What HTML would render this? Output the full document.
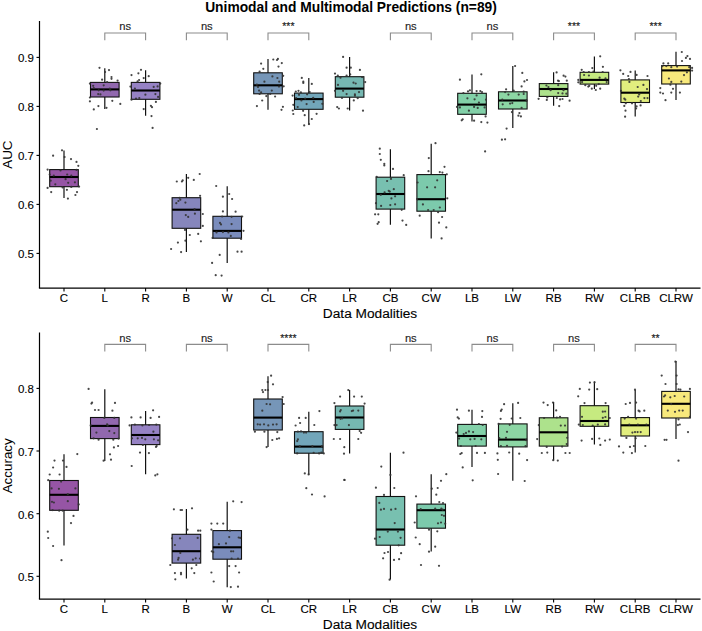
<!DOCTYPE html>
<html><head><meta charset="utf-8"><style>
html,body{margin:0;padding:0;background:#fff;width:702px;height:631px;overflow:hidden}
svg{display:block}
text{font-family:"Liberation Sans",sans-serif}
</style></head><body>
<svg width="702" height="631" viewBox="0 0 702 631">
<text x="351" y="11.6" text-anchor="middle" font-size="13.8" font-weight="bold" fill="#000">Unimodal and Multimodal Predictions (n=89)</text>
<line x1="64.0" y1="150.5" x2="64.0" y2="198.1" stroke="#111" stroke-width="1.2"/>
<rect x="49.7" y="169.6" width="28.6" height="17.1" fill="#9655A5" stroke="#111" stroke-width="1.1"/>
<line x1="49.7" y1="177.0" x2="78.3" y2="177.0" stroke="#000" stroke-width="2.1"/>
<line x1="104.8" y1="68.2" x2="104.8" y2="109.0" stroke="#111" stroke-width="1.2"/>
<rect x="90.5" y="82.4" width="28.6" height="14.6" fill="#9168AE" stroke="#111" stroke-width="1.1"/>
<line x1="90.5" y1="89.4" x2="119.1" y2="89.4" stroke="#000" stroke-width="2.1"/>
<line x1="145.6" y1="70.3" x2="145.6" y2="115.8" stroke="#111" stroke-width="1.2"/>
<rect x="131.3" y="82.4" width="28.6" height="16.9" fill="#9682C4" stroke="#111" stroke-width="1.1"/>
<line x1="131.3" y1="90.5" x2="159.9" y2="90.5" stroke="#000" stroke-width="2.1"/>
<line x1="186.4" y1="174.1" x2="186.4" y2="252.0" stroke="#111" stroke-width="1.2"/>
<rect x="172.1" y="197.7" width="28.6" height="30.6" fill="#8686BC" stroke="#111" stroke-width="1.1"/>
<line x1="172.1" y1="209.7" x2="200.7" y2="209.7" stroke="#000" stroke-width="2.1"/>
<line x1="227.2" y1="186.3" x2="227.2" y2="262.9" stroke="#111" stroke-width="1.2"/>
<rect x="212.9" y="216.3" width="28.6" height="21.9" fill="#7A8CBC" stroke="#111" stroke-width="1.1"/>
<line x1="212.9" y1="230.9" x2="241.5" y2="230.9" stroke="#000" stroke-width="2.1"/>
<line x1="268.0" y1="58.9" x2="268.0" y2="109.7" stroke="#111" stroke-width="1.2"/>
<rect x="253.7" y="72.8" width="28.6" height="21.0" fill="#7696B8" stroke="#111" stroke-width="1.1"/>
<line x1="253.7" y1="85.3" x2="282.3" y2="85.3" stroke="#000" stroke-width="2.1"/>
<line x1="308.8" y1="78.1" x2="308.8" y2="124.8" stroke="#111" stroke-width="1.2"/>
<rect x="294.5" y="93.1" width="28.6" height="16.2" fill="#72A6BA" stroke="#111" stroke-width="1.1"/>
<line x1="294.5" y1="99.1" x2="323.1" y2="99.1" stroke="#000" stroke-width="2.1"/>
<line x1="349.6" y1="57.1" x2="349.6" y2="110.5" stroke="#111" stroke-width="1.2"/>
<rect x="335.3" y="76.7" width="28.6" height="20.5" fill="#76B8B2" stroke="#111" stroke-width="1.1"/>
<line x1="335.3" y1="88.6" x2="363.9" y2="88.6" stroke="#000" stroke-width="2.1"/>
<line x1="390.4" y1="149.3" x2="390.4" y2="224.8" stroke="#111" stroke-width="1.2"/>
<rect x="376.1" y="177.2" width="28.6" height="31.9" fill="#78C0B0" stroke="#111" stroke-width="1.1"/>
<line x1="376.1" y1="194.0" x2="404.7" y2="194.0" stroke="#000" stroke-width="2.1"/>
<line x1="431.2" y1="143.7" x2="431.2" y2="238.4" stroke="#111" stroke-width="1.2"/>
<rect x="416.9" y="174.6" width="28.6" height="36.6" fill="#7CCAAC" stroke="#111" stroke-width="1.1"/>
<line x1="416.9" y1="199.2" x2="445.5" y2="199.2" stroke="#000" stroke-width="2.1"/>
<line x1="472.0" y1="74.4" x2="472.0" y2="121.6" stroke="#111" stroke-width="1.2"/>
<rect x="457.7" y="93.3" width="28.6" height="21.0" fill="#82D0A8" stroke="#111" stroke-width="1.1"/>
<line x1="457.7" y1="104.6" x2="486.3" y2="104.6" stroke="#000" stroke-width="2.1"/>
<line x1="512.8" y1="65.9" x2="512.8" y2="128.1" stroke="#111" stroke-width="1.2"/>
<rect x="498.5" y="91.8" width="28.6" height="17.2" fill="#8CD6A4" stroke="#111" stroke-width="1.1"/>
<line x1="498.5" y1="100.5" x2="527.1" y2="100.5" stroke="#000" stroke-width="2.1"/>
<line x1="553.6" y1="72.3" x2="553.6" y2="105.7" stroke="#111" stroke-width="1.2"/>
<rect x="539.3" y="83.6" width="28.6" height="12.8" fill="#ADE28C" stroke="#111" stroke-width="1.1"/>
<line x1="539.3" y1="89.0" x2="567.9" y2="89.0" stroke="#000" stroke-width="2.1"/>
<line x1="594.4" y1="56.5" x2="594.4" y2="89.0" stroke="#111" stroke-width="1.2"/>
<rect x="580.1" y="72.3" width="28.6" height="11.8" fill="#C6EA80" stroke="#111" stroke-width="1.1"/>
<line x1="580.1" y1="79.9" x2="608.7" y2="79.9" stroke="#000" stroke-width="2.1"/>
<line x1="635.2" y1="70.6" x2="635.2" y2="116.5" stroke="#111" stroke-width="1.2"/>
<rect x="620.9" y="79.9" width="28.6" height="22.6" fill="#E2EE7E" stroke="#111" stroke-width="1.1"/>
<line x1="620.9" y1="92.7" x2="649.5" y2="92.7" stroke="#000" stroke-width="2.1"/>
<line x1="676.0" y1="51.8" x2="676.0" y2="100.0" stroke="#111" stroke-width="1.2"/>
<rect x="661.7" y="65.6" width="28.6" height="18.4" fill="#F8E97C" stroke="#111" stroke-width="1.1"/>
<line x1="661.7" y1="70.4" x2="690.3" y2="70.4" stroke="#000" stroke-width="2.1"/>
<circle cx="62.0" cy="150.3" r="1.1" fill="#333" fill-opacity="0.9"/>
<circle cx="53.1" cy="155.7" r="1.1" fill="#333" fill-opacity="0.9"/>
<circle cx="64.6" cy="157.0" r="1.1" fill="#333" fill-opacity="0.9"/>
<circle cx="71.0" cy="159.1" r="1.1" fill="#333" fill-opacity="0.9"/>
<circle cx="76.5" cy="161.9" r="1.1" fill="#333" fill-opacity="0.9"/>
<circle cx="78.3" cy="165.8" r="1.1" fill="#333" fill-opacity="0.9"/>
<circle cx="47.6" cy="169.6" r="1.1" fill="#333" fill-opacity="0.9"/>
<circle cx="60.5" cy="170.4" r="1.1" fill="#333" fill-opacity="0.9"/>
<circle cx="76.5" cy="169.9" r="1.1" fill="#333" fill-opacity="0.9"/>
<circle cx="49.7" cy="174.5" r="1.1" fill="#333" fill-opacity="0.9"/>
<circle cx="53.8" cy="175.6" r="1.1" fill="#333" fill-opacity="0.9"/>
<circle cx="67.2" cy="174.5" r="1.1" fill="#333" fill-opacity="0.9"/>
<circle cx="71.3" cy="175.6" r="1.1" fill="#333" fill-opacity="0.9"/>
<circle cx="65.6" cy="179.2" r="1.1" fill="#333" fill-opacity="0.9"/>
<circle cx="50.7" cy="180.7" r="1.1" fill="#333" fill-opacity="0.9"/>
<circle cx="68.2" cy="182.8" r="1.1" fill="#333" fill-opacity="0.9"/>
<circle cx="74.9" cy="182.3" r="1.1" fill="#333" fill-opacity="0.9"/>
<circle cx="55.3" cy="184.3" r="1.1" fill="#333" fill-opacity="0.9"/>
<circle cx="47.6" cy="187.9" r="1.1" fill="#333" fill-opacity="0.9"/>
<circle cx="62.6" cy="187.4" r="1.1" fill="#333" fill-opacity="0.9"/>
<circle cx="71.3" cy="186.9" r="1.1" fill="#333" fill-opacity="0.9"/>
<circle cx="79.1" cy="186.6" r="1.1" fill="#333" fill-opacity="0.9"/>
<circle cx="51.2" cy="192.1" r="1.1" fill="#333" fill-opacity="0.9"/>
<circle cx="66.9" cy="189.8" r="1.1" fill="#333" fill-opacity="0.9"/>
<circle cx="77.0" cy="192.1" r="1.1" fill="#333" fill-opacity="0.9"/>
<circle cx="75.4" cy="195.0" r="1.1" fill="#333" fill-opacity="0.9"/>
<circle cx="67.9" cy="198.6" r="1.1" fill="#333" fill-opacity="0.9"/>
<circle cx="99.5" cy="67.8" r="1.1" fill="#333" fill-opacity="0.9"/>
<circle cx="109.0" cy="70.1" r="1.1" fill="#333" fill-opacity="0.9"/>
<circle cx="105.1" cy="72.0" r="1.1" fill="#333" fill-opacity="0.9"/>
<circle cx="111.5" cy="77.0" r="1.1" fill="#333" fill-opacity="0.9"/>
<circle cx="111.5" cy="78.8" r="1.1" fill="#333" fill-opacity="0.9"/>
<circle cx="102.1" cy="79.7" r="1.1" fill="#333" fill-opacity="0.9"/>
<circle cx="117.6" cy="80.6" r="1.1" fill="#333" fill-opacity="0.9"/>
<circle cx="107.1" cy="82.0" r="1.1" fill="#333" fill-opacity="0.9"/>
<circle cx="89.9" cy="83.6" r="1.1" fill="#333" fill-opacity="0.9"/>
<circle cx="103.7" cy="85.3" r="1.1" fill="#333" fill-opacity="0.9"/>
<circle cx="93.2" cy="85.8" r="1.1" fill="#333" fill-opacity="0.9"/>
<circle cx="93.8" cy="88.0" r="1.1" fill="#333" fill-opacity="0.9"/>
<circle cx="98.7" cy="90.3" r="1.1" fill="#333" fill-opacity="0.9"/>
<circle cx="103.7" cy="90.6" r="1.1" fill="#333" fill-opacity="0.9"/>
<circle cx="110.4" cy="90.3" r="1.1" fill="#333" fill-opacity="0.9"/>
<circle cx="109.8" cy="88.6" r="1.1" fill="#333" fill-opacity="0.9"/>
<circle cx="98.2" cy="94.1" r="1.1" fill="#333" fill-opacity="0.9"/>
<circle cx="100.4" cy="94.4" r="1.1" fill="#333" fill-opacity="0.9"/>
<circle cx="89.9" cy="97.5" r="1.1" fill="#333" fill-opacity="0.9"/>
<circle cx="89.9" cy="101.3" r="1.1" fill="#333" fill-opacity="0.9"/>
<circle cx="112.3" cy="100.8" r="1.1" fill="#333" fill-opacity="0.9"/>
<circle cx="120.3" cy="103.9" r="1.1" fill="#333" fill-opacity="0.9"/>
<circle cx="98.4" cy="106.1" r="1.1" fill="#333" fill-opacity="0.9"/>
<circle cx="93.8" cy="109.4" r="1.1" fill="#333" fill-opacity="0.9"/>
<circle cx="106.5" cy="107.8" r="1.1" fill="#333" fill-opacity="0.9"/>
<circle cx="96.9" cy="129.0" r="1.1" fill="#333" fill-opacity="0.9"/>
<circle cx="141.0" cy="69.8" r="1.1" fill="#333" fill-opacity="0.9"/>
<circle cx="131.5" cy="75.1" r="1.1" fill="#333" fill-opacity="0.9"/>
<circle cx="138.4" cy="73.3" r="1.1" fill="#333" fill-opacity="0.9"/>
<circle cx="148.7" cy="76.2" r="1.1" fill="#333" fill-opacity="0.9"/>
<circle cx="143.7" cy="78.1" r="1.1" fill="#333" fill-opacity="0.9"/>
<circle cx="139.1" cy="80.0" r="1.1" fill="#333" fill-opacity="0.9"/>
<circle cx="137.6" cy="81.4" r="1.1" fill="#333" fill-opacity="0.9"/>
<circle cx="130.4" cy="86.6" r="1.1" fill="#333" fill-opacity="0.9"/>
<circle cx="134.9" cy="88.6" r="1.1" fill="#333" fill-opacity="0.9"/>
<circle cx="153.7" cy="86.9" r="1.1" fill="#333" fill-opacity="0.9"/>
<circle cx="157.6" cy="86.4" r="1.1" fill="#333" fill-opacity="0.9"/>
<circle cx="155.4" cy="94.1" r="1.1" fill="#333" fill-opacity="0.9"/>
<circle cx="145.4" cy="94.7" r="1.1" fill="#333" fill-opacity="0.9"/>
<circle cx="158.1" cy="96.9" r="1.1" fill="#333" fill-opacity="0.9"/>
<circle cx="136.0" cy="98.6" r="1.1" fill="#333" fill-opacity="0.9"/>
<circle cx="139.3" cy="98.0" r="1.1" fill="#333" fill-opacity="0.9"/>
<circle cx="131.5" cy="99.7" r="1.1" fill="#333" fill-opacity="0.9"/>
<circle cx="155.9" cy="101.9" r="1.1" fill="#333" fill-opacity="0.9"/>
<circle cx="150.9" cy="105.8" r="1.1" fill="#333" fill-opacity="0.9"/>
<circle cx="152.0" cy="107.2" r="1.1" fill="#333" fill-opacity="0.9"/>
<circle cx="143.7" cy="109.1" r="1.1" fill="#333" fill-opacity="0.9"/>
<circle cx="151.5" cy="116.1" r="1.1" fill="#333" fill-opacity="0.9"/>
<circle cx="152.6" cy="127.9" r="1.1" fill="#333" fill-opacity="0.9"/>
<circle cx="160.3" cy="83.6" r="1.1" fill="#333" fill-opacity="0.9"/>
<circle cx="199.7" cy="174.0" r="1.1" fill="#333" fill-opacity="0.9"/>
<circle cx="188.2" cy="177.8" r="1.1" fill="#333" fill-opacity="0.9"/>
<circle cx="193.8" cy="179.9" r="1.1" fill="#333" fill-opacity="0.9"/>
<circle cx="176.8" cy="181.5" r="1.1" fill="#333" fill-opacity="0.9"/>
<circle cx="181.9" cy="181.5" r="1.1" fill="#333" fill-opacity="0.9"/>
<circle cx="182.7" cy="180.4" r="1.1" fill="#333" fill-opacity="0.9"/>
<circle cx="200.1" cy="195.8" r="1.1" fill="#333" fill-opacity="0.9"/>
<circle cx="179.5" cy="197.8" r="1.1" fill="#333" fill-opacity="0.9"/>
<circle cx="180.3" cy="199.7" r="1.1" fill="#333" fill-opacity="0.9"/>
<circle cx="178.4" cy="201.0" r="1.1" fill="#333" fill-opacity="0.9"/>
<circle cx="176.3" cy="203.2" r="1.1" fill="#333" fill-opacity="0.9"/>
<circle cx="185.4" cy="202.6" r="1.1" fill="#333" fill-opacity="0.9"/>
<circle cx="194.6" cy="209.0" r="1.1" fill="#333" fill-opacity="0.9"/>
<circle cx="194.9" cy="213.7" r="1.1" fill="#333" fill-opacity="0.9"/>
<circle cx="202.8" cy="214.0" r="1.1" fill="#333" fill-opacity="0.9"/>
<circle cx="185.8" cy="215.1" r="1.1" fill="#333" fill-opacity="0.9"/>
<circle cx="188.2" cy="216.9" r="1.1" fill="#333" fill-opacity="0.9"/>
<circle cx="202.8" cy="225.9" r="1.1" fill="#333" fill-opacity="0.9"/>
<circle cx="185.0" cy="229.9" r="1.1" fill="#333" fill-opacity="0.9"/>
<circle cx="189.8" cy="235.0" r="1.1" fill="#333" fill-opacity="0.9"/>
<circle cx="198.2" cy="233.9" r="1.1" fill="#333" fill-opacity="0.9"/>
<circle cx="177.9" cy="242.6" r="1.1" fill="#333" fill-opacity="0.9"/>
<circle cx="185.4" cy="240.7" r="1.1" fill="#333" fill-opacity="0.9"/>
<circle cx="200.9" cy="241.3" r="1.1" fill="#333" fill-opacity="0.9"/>
<circle cx="171.1" cy="249.0" r="1.1" fill="#333" fill-opacity="0.9"/>
<circle cx="181.1" cy="252.1" r="1.1" fill="#333" fill-opacity="0.9"/>
<circle cx="216.2" cy="186.0" r="1.1" fill="#333" fill-opacity="0.9"/>
<circle cx="229.2" cy="194.0" r="1.1" fill="#333" fill-opacity="0.9"/>
<circle cx="222.9" cy="196.7" r="1.1" fill="#333" fill-opacity="0.9"/>
<circle cx="232.1" cy="199.0" r="1.1" fill="#333" fill-opacity="0.9"/>
<circle cx="222.9" cy="211.4" r="1.1" fill="#333" fill-opacity="0.9"/>
<circle cx="235.6" cy="211.7" r="1.1" fill="#333" fill-opacity="0.9"/>
<circle cx="222.1" cy="216.5" r="1.1" fill="#333" fill-opacity="0.9"/>
<circle cx="231.6" cy="216.8" r="1.1" fill="#333" fill-opacity="0.9"/>
<circle cx="242.2" cy="216.5" r="1.1" fill="#333" fill-opacity="0.9"/>
<circle cx="220.0" cy="222.9" r="1.1" fill="#333" fill-opacity="0.9"/>
<circle cx="221.0" cy="224.4" r="1.1" fill="#333" fill-opacity="0.9"/>
<circle cx="231.6" cy="224.1" r="1.1" fill="#333" fill-opacity="0.9"/>
<circle cx="243.5" cy="230.8" r="1.1" fill="#333" fill-opacity="0.9"/>
<circle cx="216.5" cy="232.4" r="1.1" fill="#333" fill-opacity="0.9"/>
<circle cx="222.9" cy="232.1" r="1.1" fill="#333" fill-opacity="0.9"/>
<circle cx="228.4" cy="232.4" r="1.1" fill="#333" fill-opacity="0.9"/>
<circle cx="230.8" cy="235.9" r="1.1" fill="#333" fill-opacity="0.9"/>
<circle cx="212.6" cy="237.9" r="1.1" fill="#333" fill-opacity="0.9"/>
<circle cx="241.1" cy="239.0" r="1.1" fill="#333" fill-opacity="0.9"/>
<circle cx="237.5" cy="251.7" r="1.1" fill="#333" fill-opacity="0.9"/>
<circle cx="241.6" cy="251.7" r="1.1" fill="#333" fill-opacity="0.9"/>
<circle cx="219.7" cy="254.9" r="1.1" fill="#333" fill-opacity="0.9"/>
<circle cx="212.1" cy="262.9" r="1.1" fill="#333" fill-opacity="0.9"/>
<circle cx="215.7" cy="275.2" r="1.1" fill="#333" fill-opacity="0.9"/>
<circle cx="221.6" cy="275.6" r="1.1" fill="#333" fill-opacity="0.9"/>
<circle cx="273.3" cy="59.5" r="1.1" fill="#333" fill-opacity="0.9"/>
<circle cx="277.0" cy="60.0" r="1.1" fill="#333" fill-opacity="0.9"/>
<circle cx="277.9" cy="58.9" r="1.1" fill="#333" fill-opacity="0.9"/>
<circle cx="281.8" cy="63.1" r="1.1" fill="#333" fill-opacity="0.9"/>
<circle cx="261.1" cy="63.6" r="1.1" fill="#333" fill-opacity="0.9"/>
<circle cx="278.5" cy="66.6" r="1.1" fill="#333" fill-opacity="0.9"/>
<circle cx="263.3" cy="68.8" r="1.1" fill="#333" fill-opacity="0.9"/>
<circle cx="259.6" cy="71.7" r="1.1" fill="#333" fill-opacity="0.9"/>
<circle cx="283.2" cy="75.8" r="1.1" fill="#333" fill-opacity="0.9"/>
<circle cx="272.4" cy="76.4" r="1.1" fill="#333" fill-opacity="0.9"/>
<circle cx="277.4" cy="78.0" r="1.1" fill="#333" fill-opacity="0.9"/>
<circle cx="264.4" cy="81.7" r="1.1" fill="#333" fill-opacity="0.9"/>
<circle cx="279.2" cy="81.7" r="1.1" fill="#333" fill-opacity="0.9"/>
<circle cx="256.9" cy="84.7" r="1.1" fill="#333" fill-opacity="0.9"/>
<circle cx="258.0" cy="86.9" r="1.1" fill="#333" fill-opacity="0.9"/>
<circle cx="279.0" cy="86.6" r="1.1" fill="#333" fill-opacity="0.9"/>
<circle cx="283.7" cy="86.3" r="1.1" fill="#333" fill-opacity="0.9"/>
<circle cx="259.1" cy="90.6" r="1.1" fill="#333" fill-opacity="0.9"/>
<circle cx="271.8" cy="90.6" r="1.1" fill="#333" fill-opacity="0.9"/>
<circle cx="261.1" cy="92.4" r="1.1" fill="#333" fill-opacity="0.9"/>
<circle cx="259.6" cy="93.9" r="1.1" fill="#333" fill-opacity="0.9"/>
<circle cx="270.2" cy="93.9" r="1.1" fill="#333" fill-opacity="0.9"/>
<circle cx="266.3" cy="96.1" r="1.1" fill="#333" fill-opacity="0.9"/>
<circle cx="275.1" cy="96.5" r="1.1" fill="#333" fill-opacity="0.9"/>
<circle cx="262.2" cy="100.5" r="1.1" fill="#333" fill-opacity="0.9"/>
<circle cx="256.9" cy="106.1" r="1.1" fill="#333" fill-opacity="0.9"/>
<circle cx="282.9" cy="106.8" r="1.1" fill="#333" fill-opacity="0.9"/>
<circle cx="281.5" cy="109.8" r="1.1" fill="#333" fill-opacity="0.9"/>
<circle cx="301.8" cy="77.9" r="1.1" fill="#333" fill-opacity="0.9"/>
<circle cx="303.3" cy="81.7" r="1.1" fill="#333" fill-opacity="0.9"/>
<circle cx="303.3" cy="82.9" r="1.1" fill="#333" fill-opacity="0.9"/>
<circle cx="311.8" cy="83.9" r="1.1" fill="#333" fill-opacity="0.9"/>
<circle cx="295.8" cy="91.5" r="1.1" fill="#333" fill-opacity="0.9"/>
<circle cx="298.5" cy="90.8" r="1.1" fill="#333" fill-opacity="0.9"/>
<circle cx="300.9" cy="92.4" r="1.1" fill="#333" fill-opacity="0.9"/>
<circle cx="309.7" cy="92.0" r="1.1" fill="#333" fill-opacity="0.9"/>
<circle cx="292.6" cy="95.6" r="1.1" fill="#333" fill-opacity="0.9"/>
<circle cx="299.0" cy="94.8" r="1.1" fill="#333" fill-opacity="0.9"/>
<circle cx="307.1" cy="94.3" r="1.1" fill="#333" fill-opacity="0.9"/>
<circle cx="296.1" cy="98.1" r="1.1" fill="#333" fill-opacity="0.9"/>
<circle cx="305.2" cy="98.6" r="1.1" fill="#333" fill-opacity="0.9"/>
<circle cx="313.2" cy="97.8" r="1.1" fill="#333" fill-opacity="0.9"/>
<circle cx="301.4" cy="100.5" r="1.1" fill="#333" fill-opacity="0.9"/>
<circle cx="313.7" cy="101.9" r="1.1" fill="#333" fill-opacity="0.9"/>
<circle cx="322.3" cy="103.8" r="1.1" fill="#333" fill-opacity="0.9"/>
<circle cx="306.6" cy="104.1" r="1.1" fill="#333" fill-opacity="0.9"/>
<circle cx="293.3" cy="104.8" r="1.1" fill="#333" fill-opacity="0.9"/>
<circle cx="297.7" cy="107.0" r="1.1" fill="#333" fill-opacity="0.9"/>
<circle cx="292.8" cy="110.5" r="1.1" fill="#333" fill-opacity="0.9"/>
<circle cx="303.1" cy="110.8" r="1.1" fill="#333" fill-opacity="0.9"/>
<circle cx="293.3" cy="114.0" r="1.1" fill="#333" fill-opacity="0.9"/>
<circle cx="316.6" cy="113.8" r="1.1" fill="#333" fill-opacity="0.9"/>
<circle cx="304.7" cy="115.2" r="1.1" fill="#333" fill-opacity="0.9"/>
<circle cx="311.8" cy="119.0" r="1.1" fill="#333" fill-opacity="0.9"/>
<circle cx="309.0" cy="124.1" r="1.1" fill="#333" fill-opacity="0.9"/>
<circle cx="304.2" cy="125.4" r="1.1" fill="#333" fill-opacity="0.9"/>
<circle cx="343.1" cy="56.9" r="1.1" fill="#333" fill-opacity="0.9"/>
<circle cx="346.6" cy="67.7" r="1.1" fill="#333" fill-opacity="0.9"/>
<circle cx="350.8" cy="67.7" r="1.1" fill="#333" fill-opacity="0.9"/>
<circle cx="359.9" cy="69.9" r="1.1" fill="#333" fill-opacity="0.9"/>
<circle cx="335.0" cy="73.6" r="1.1" fill="#333" fill-opacity="0.9"/>
<circle cx="337.8" cy="75.7" r="1.1" fill="#333" fill-opacity="0.9"/>
<circle cx="346.6" cy="75.7" r="1.1" fill="#333" fill-opacity="0.9"/>
<circle cx="350.2" cy="74.4" r="1.1" fill="#333" fill-opacity="0.9"/>
<circle cx="340.5" cy="77.7" r="1.1" fill="#333" fill-opacity="0.9"/>
<circle cx="362.1" cy="77.1" r="1.1" fill="#333" fill-opacity="0.9"/>
<circle cx="353.5" cy="82.7" r="1.1" fill="#333" fill-opacity="0.9"/>
<circle cx="355.7" cy="83.5" r="1.1" fill="#333" fill-opacity="0.9"/>
<circle cx="365.2" cy="82.1" r="1.1" fill="#333" fill-opacity="0.9"/>
<circle cx="338.0" cy="84.9" r="1.1" fill="#333" fill-opacity="0.9"/>
<circle cx="335.0" cy="90.8" r="1.1" fill="#333" fill-opacity="0.9"/>
<circle cx="343.1" cy="90.8" r="1.1" fill="#333" fill-opacity="0.9"/>
<circle cx="359.0" cy="92.1" r="1.1" fill="#333" fill-opacity="0.9"/>
<circle cx="346.6" cy="94.1" r="1.1" fill="#333" fill-opacity="0.9"/>
<circle cx="354.9" cy="94.3" r="1.1" fill="#333" fill-opacity="0.9"/>
<circle cx="354.9" cy="95.7" r="1.1" fill="#333" fill-opacity="0.9"/>
<circle cx="342.0" cy="97.9" r="1.1" fill="#333" fill-opacity="0.9"/>
<circle cx="357.7" cy="98.2" r="1.1" fill="#333" fill-opacity="0.9"/>
<circle cx="353.8" cy="100.4" r="1.1" fill="#333" fill-opacity="0.9"/>
<circle cx="337.2" cy="107.1" r="1.1" fill="#333" fill-opacity="0.9"/>
<circle cx="338.9" cy="108.5" r="1.1" fill="#333" fill-opacity="0.9"/>
<circle cx="347.7" cy="108.5" r="1.1" fill="#333" fill-opacity="0.9"/>
<circle cx="363.0" cy="110.7" r="1.1" fill="#333" fill-opacity="0.9"/>
<circle cx="379.8" cy="148.7" r="1.1" fill="#333" fill-opacity="0.9"/>
<circle cx="379.8" cy="154.0" r="1.1" fill="#333" fill-opacity="0.9"/>
<circle cx="380.8" cy="159.8" r="1.1" fill="#333" fill-opacity="0.9"/>
<circle cx="384.3" cy="163.8" r="1.1" fill="#333" fill-opacity="0.9"/>
<circle cx="384.3" cy="165.4" r="1.1" fill="#333" fill-opacity="0.9"/>
<circle cx="393.0" cy="168.9" r="1.1" fill="#333" fill-opacity="0.9"/>
<circle cx="403.7" cy="175.2" r="1.1" fill="#333" fill-opacity="0.9"/>
<circle cx="376.7" cy="176.8" r="1.1" fill="#333" fill-opacity="0.9"/>
<circle cx="391.0" cy="178.9" r="1.1" fill="#333" fill-opacity="0.9"/>
<circle cx="387.1" cy="181.0" r="1.1" fill="#333" fill-opacity="0.9"/>
<circle cx="393.8" cy="189.2" r="1.1" fill="#333" fill-opacity="0.9"/>
<circle cx="388.7" cy="190.8" r="1.1" fill="#333" fill-opacity="0.9"/>
<circle cx="389.8" cy="191.6" r="1.1" fill="#333" fill-opacity="0.9"/>
<circle cx="384.6" cy="192.4" r="1.1" fill="#333" fill-opacity="0.9"/>
<circle cx="380.8" cy="194.8" r="1.1" fill="#333" fill-opacity="0.9"/>
<circle cx="395.1" cy="196.3" r="1.1" fill="#333" fill-opacity="0.9"/>
<circle cx="391.4" cy="198.4" r="1.1" fill="#333" fill-opacity="0.9"/>
<circle cx="376.0" cy="203.2" r="1.1" fill="#333" fill-opacity="0.9"/>
<circle cx="381.1" cy="205.9" r="1.1" fill="#333" fill-opacity="0.9"/>
<circle cx="390.3" cy="205.1" r="1.1" fill="#333" fill-opacity="0.9"/>
<circle cx="395.1" cy="204.3" r="1.1" fill="#333" fill-opacity="0.9"/>
<circle cx="401.7" cy="209.8" r="1.1" fill="#333" fill-opacity="0.9"/>
<circle cx="375.1" cy="214.3" r="1.1" fill="#333" fill-opacity="0.9"/>
<circle cx="378.3" cy="214.3" r="1.1" fill="#333" fill-opacity="0.9"/>
<circle cx="378.7" cy="222.2" r="1.1" fill="#333" fill-opacity="0.9"/>
<circle cx="377.6" cy="223.8" r="1.1" fill="#333" fill-opacity="0.9"/>
<circle cx="402.5" cy="220.6" r="1.1" fill="#333" fill-opacity="0.9"/>
<circle cx="406.2" cy="224.9" r="1.1" fill="#333" fill-opacity="0.9"/>
<circle cx="435.5" cy="143.2" r="1.1" fill="#333" fill-opacity="0.9"/>
<circle cx="428.8" cy="158.1" r="1.1" fill="#333" fill-opacity="0.9"/>
<circle cx="444.5" cy="166.8" r="1.1" fill="#333" fill-opacity="0.9"/>
<circle cx="428.5" cy="171.2" r="1.1" fill="#333" fill-opacity="0.9"/>
<circle cx="439.8" cy="172.1" r="1.1" fill="#333" fill-opacity="0.9"/>
<circle cx="442.4" cy="172.6" r="1.1" fill="#333" fill-opacity="0.9"/>
<circle cx="446.8" cy="174.3" r="1.1" fill="#333" fill-opacity="0.9"/>
<circle cx="417.6" cy="182.5" r="1.1" fill="#333" fill-opacity="0.9"/>
<circle cx="437.2" cy="180.3" r="1.1" fill="#333" fill-opacity="0.9"/>
<circle cx="427.1" cy="187.3" r="1.1" fill="#333" fill-opacity="0.9"/>
<circle cx="435.1" cy="187.3" r="1.1" fill="#333" fill-opacity="0.9"/>
<circle cx="417.1" cy="199.1" r="1.1" fill="#333" fill-opacity="0.9"/>
<circle cx="447.3" cy="198.3" r="1.1" fill="#333" fill-opacity="0.9"/>
<circle cx="422.9" cy="204.4" r="1.1" fill="#333" fill-opacity="0.9"/>
<circle cx="439.8" cy="207.5" r="1.1" fill="#333" fill-opacity="0.9"/>
<circle cx="428.1" cy="210.0" r="1.1" fill="#333" fill-opacity="0.9"/>
<circle cx="433.7" cy="210.0" r="1.1" fill="#333" fill-opacity="0.9"/>
<circle cx="419.7" cy="215.7" r="1.1" fill="#333" fill-opacity="0.9"/>
<circle cx="438.1" cy="212.2" r="1.1" fill="#333" fill-opacity="0.9"/>
<circle cx="442.1" cy="217.0" r="1.1" fill="#333" fill-opacity="0.9"/>
<circle cx="439.0" cy="222.7" r="1.1" fill="#333" fill-opacity="0.9"/>
<circle cx="446.3" cy="227.4" r="1.1" fill="#333" fill-opacity="0.9"/>
<circle cx="441.6" cy="238.4" r="1.1" fill="#333" fill-opacity="0.9"/>
<circle cx="481.3" cy="74.3" r="1.1" fill="#333" fill-opacity="0.9"/>
<circle cx="459.9" cy="79.7" r="1.1" fill="#333" fill-opacity="0.9"/>
<circle cx="468.0" cy="91.4" r="1.1" fill="#333" fill-opacity="0.9"/>
<circle cx="469.9" cy="90.3" r="1.1" fill="#333" fill-opacity="0.9"/>
<circle cx="476.6" cy="91.1" r="1.1" fill="#333" fill-opacity="0.9"/>
<circle cx="480.3" cy="91.1" r="1.1" fill="#333" fill-opacity="0.9"/>
<circle cx="482.0" cy="92.1" r="1.1" fill="#333" fill-opacity="0.9"/>
<circle cx="463.4" cy="93.1" r="1.1" fill="#333" fill-opacity="0.9"/>
<circle cx="476.6" cy="95.4" r="1.1" fill="#333" fill-opacity="0.9"/>
<circle cx="467.4" cy="98.3" r="1.1" fill="#333" fill-opacity="0.9"/>
<circle cx="474.6" cy="99.3" r="1.1" fill="#333" fill-opacity="0.9"/>
<circle cx="486.0" cy="99.7" r="1.1" fill="#333" fill-opacity="0.9"/>
<circle cx="478.9" cy="102.6" r="1.1" fill="#333" fill-opacity="0.9"/>
<circle cx="457.0" cy="106.9" r="1.1" fill="#333" fill-opacity="0.9"/>
<circle cx="459.9" cy="107.4" r="1.1" fill="#333" fill-opacity="0.9"/>
<circle cx="474.1" cy="106.9" r="1.1" fill="#333" fill-opacity="0.9"/>
<circle cx="477.7" cy="107.9" r="1.1" fill="#333" fill-opacity="0.9"/>
<circle cx="484.6" cy="107.4" r="1.1" fill="#333" fill-opacity="0.9"/>
<circle cx="468.9" cy="110.7" r="1.1" fill="#333" fill-opacity="0.9"/>
<circle cx="485.6" cy="116.4" r="1.1" fill="#333" fill-opacity="0.9"/>
<circle cx="462.7" cy="119.3" r="1.1" fill="#333" fill-opacity="0.9"/>
<circle cx="461.7" cy="120.3" r="1.1" fill="#333" fill-opacity="0.9"/>
<circle cx="474.1" cy="120.7" r="1.1" fill="#333" fill-opacity="0.9"/>
<circle cx="481.3" cy="122.1" r="1.1" fill="#333" fill-opacity="0.9"/>
<circle cx="487.4" cy="122.6" r="1.1" fill="#333" fill-opacity="0.9"/>
<circle cx="485.1" cy="151.4" r="1.1" fill="#333" fill-opacity="0.9"/>
<circle cx="515.1" cy="66.0" r="1.1" fill="#333" fill-opacity="0.9"/>
<circle cx="522.3" cy="72.9" r="1.1" fill="#333" fill-opacity="0.9"/>
<circle cx="524.4" cy="81.4" r="1.1" fill="#333" fill-opacity="0.9"/>
<circle cx="527.0" cy="80.0" r="1.1" fill="#333" fill-opacity="0.9"/>
<circle cx="521.6" cy="86.4" r="1.1" fill="#333" fill-opacity="0.9"/>
<circle cx="506.1" cy="89.3" r="1.1" fill="#333" fill-opacity="0.9"/>
<circle cx="513.7" cy="90.7" r="1.1" fill="#333" fill-opacity="0.9"/>
<circle cx="505.1" cy="92.1" r="1.1" fill="#333" fill-opacity="0.9"/>
<circle cx="523.7" cy="91.7" r="1.1" fill="#333" fill-opacity="0.9"/>
<circle cx="508.4" cy="94.6" r="1.1" fill="#333" fill-opacity="0.9"/>
<circle cx="518.7" cy="94.6" r="1.1" fill="#333" fill-opacity="0.9"/>
<circle cx="523.7" cy="94.0" r="1.1" fill="#333" fill-opacity="0.9"/>
<circle cx="502.3" cy="99.7" r="1.1" fill="#333" fill-opacity="0.9"/>
<circle cx="526.6" cy="100.7" r="1.1" fill="#333" fill-opacity="0.9"/>
<circle cx="502.7" cy="104.3" r="1.1" fill="#333" fill-opacity="0.9"/>
<circle cx="510.1" cy="103.6" r="1.1" fill="#333" fill-opacity="0.9"/>
<circle cx="512.3" cy="103.1" r="1.1" fill="#333" fill-opacity="0.9"/>
<circle cx="521.6" cy="107.9" r="1.1" fill="#333" fill-opacity="0.9"/>
<circle cx="511.9" cy="112.1" r="1.1" fill="#333" fill-opacity="0.9"/>
<circle cx="519.4" cy="113.1" r="1.1" fill="#333" fill-opacity="0.9"/>
<circle cx="518.4" cy="115.7" r="1.1" fill="#333" fill-opacity="0.9"/>
<circle cx="520.9" cy="116.4" r="1.1" fill="#333" fill-opacity="0.9"/>
<circle cx="506.6" cy="128.6" r="1.1" fill="#333" fill-opacity="0.9"/>
<circle cx="501.9" cy="139.7" r="1.1" fill="#333" fill-opacity="0.9"/>
<circle cx="505.1" cy="139.3" r="1.1" fill="#333" fill-opacity="0.9"/>
<circle cx="556.6" cy="72.4" r="1.1" fill="#333" fill-opacity="0.9"/>
<circle cx="563.6" cy="75.7" r="1.1" fill="#333" fill-opacity="0.9"/>
<circle cx="565.4" cy="76.6" r="1.1" fill="#333" fill-opacity="0.9"/>
<circle cx="558.0" cy="80.7" r="1.1" fill="#333" fill-opacity="0.9"/>
<circle cx="558.9" cy="81.1" r="1.1" fill="#333" fill-opacity="0.9"/>
<circle cx="566.8" cy="80.7" r="1.1" fill="#333" fill-opacity="0.9"/>
<circle cx="546.4" cy="85.5" r="1.1" fill="#333" fill-opacity="0.9"/>
<circle cx="548.4" cy="87.1" r="1.1" fill="#333" fill-opacity="0.9"/>
<circle cx="558.2" cy="85.2" r="1.1" fill="#333" fill-opacity="0.9"/>
<circle cx="550.6" cy="90.2" r="1.1" fill="#333" fill-opacity="0.9"/>
<circle cx="563.5" cy="90.2" r="1.1" fill="#333" fill-opacity="0.9"/>
<circle cx="558.2" cy="93.1" r="1.1" fill="#333" fill-opacity="0.9"/>
<circle cx="562.5" cy="93.4" r="1.1" fill="#333" fill-opacity="0.9"/>
<circle cx="566.3" cy="93.7" r="1.1" fill="#333" fill-opacity="0.9"/>
<circle cx="538.6" cy="98.8" r="1.1" fill="#333" fill-opacity="0.9"/>
<circle cx="546.8" cy="99.9" r="1.1" fill="#333" fill-opacity="0.9"/>
<circle cx="547.3" cy="97.5" r="1.1" fill="#333" fill-opacity="0.9"/>
<circle cx="556.8" cy="98.0" r="1.1" fill="#333" fill-opacity="0.9"/>
<circle cx="560.1" cy="99.4" r="1.1" fill="#333" fill-opacity="0.9"/>
<circle cx="562.5" cy="99.0" r="1.1" fill="#333" fill-opacity="0.9"/>
<circle cx="569.6" cy="100.7" r="1.1" fill="#333" fill-opacity="0.9"/>
<circle cx="559.2" cy="106.1" r="1.1" fill="#333" fill-opacity="0.9"/>
<circle cx="600.2" cy="56.3" r="1.1" fill="#333" fill-opacity="0.9"/>
<circle cx="602.9" cy="66.8" r="1.1" fill="#333" fill-opacity="0.9"/>
<circle cx="592.3" cy="68.1" r="1.1" fill="#333" fill-opacity="0.9"/>
<circle cx="581.7" cy="69.8" r="1.1" fill="#333" fill-opacity="0.9"/>
<circle cx="583.7" cy="72.0" r="1.1" fill="#333" fill-opacity="0.9"/>
<circle cx="588.9" cy="72.0" r="1.1" fill="#333" fill-opacity="0.9"/>
<circle cx="593.4" cy="71.5" r="1.1" fill="#333" fill-opacity="0.9"/>
<circle cx="602.7" cy="72.0" r="1.1" fill="#333" fill-opacity="0.9"/>
<circle cx="584.1" cy="75.0" r="1.1" fill="#333" fill-opacity="0.9"/>
<circle cx="588.9" cy="75.5" r="1.1" fill="#333" fill-opacity="0.9"/>
<circle cx="599.6" cy="77.7" r="1.1" fill="#333" fill-opacity="0.9"/>
<circle cx="605.5" cy="78.4" r="1.1" fill="#333" fill-opacity="0.9"/>
<circle cx="578.3" cy="79.9" r="1.1" fill="#333" fill-opacity="0.9"/>
<circle cx="578.3" cy="82.3" r="1.1" fill="#333" fill-opacity="0.9"/>
<circle cx="582.1" cy="82.1" r="1.1" fill="#333" fill-opacity="0.9"/>
<circle cx="606.7" cy="82.1" r="1.1" fill="#333" fill-opacity="0.9"/>
<circle cx="585.3" cy="85.2" r="1.1" fill="#333" fill-opacity="0.9"/>
<circle cx="588.3" cy="86.6" r="1.1" fill="#333" fill-opacity="0.9"/>
<circle cx="589.3" cy="85.8" r="1.1" fill="#333" fill-opacity="0.9"/>
<circle cx="596.2" cy="85.8" r="1.1" fill="#333" fill-opacity="0.9"/>
<circle cx="598.8" cy="84.1" r="1.1" fill="#333" fill-opacity="0.9"/>
<circle cx="591.8" cy="88.7" r="1.1" fill="#333" fill-opacity="0.9"/>
<circle cx="595.8" cy="90.0" r="1.1" fill="#333" fill-opacity="0.9"/>
<circle cx="600.2" cy="88.7" r="1.1" fill="#333" fill-opacity="0.9"/>
<circle cx="620.4" cy="70.3" r="1.1" fill="#333" fill-opacity="0.9"/>
<circle cx="623.2" cy="73.9" r="1.1" fill="#333" fill-opacity="0.9"/>
<circle cx="630.5" cy="71.9" r="1.1" fill="#333" fill-opacity="0.9"/>
<circle cx="628.2" cy="76.0" r="1.1" fill="#333" fill-opacity="0.9"/>
<circle cx="636.6" cy="74.9" r="1.1" fill="#333" fill-opacity="0.9"/>
<circle cx="647.5" cy="76.0" r="1.1" fill="#333" fill-opacity="0.9"/>
<circle cx="628.9" cy="79.1" r="1.1" fill="#333" fill-opacity="0.9"/>
<circle cx="629.4" cy="81.9" r="1.1" fill="#333" fill-opacity="0.9"/>
<circle cx="643.4" cy="84.9" r="1.1" fill="#333" fill-opacity="0.9"/>
<circle cx="637.7" cy="87.0" r="1.1" fill="#333" fill-opacity="0.9"/>
<circle cx="647.0" cy="89.1" r="1.1" fill="#333" fill-opacity="0.9"/>
<circle cx="621.0" cy="90.9" r="1.1" fill="#333" fill-opacity="0.9"/>
<circle cx="638.2" cy="96.6" r="1.1" fill="#333" fill-opacity="0.9"/>
<circle cx="639.2" cy="94.5" r="1.1" fill="#333" fill-opacity="0.9"/>
<circle cx="624.3" cy="98.7" r="1.1" fill="#333" fill-opacity="0.9"/>
<circle cx="625.3" cy="99.7" r="1.1" fill="#333" fill-opacity="0.9"/>
<circle cx="644.4" cy="98.1" r="1.1" fill="#333" fill-opacity="0.9"/>
<circle cx="647.5" cy="98.1" r="1.1" fill="#333" fill-opacity="0.9"/>
<circle cx="640.8" cy="101.0" r="1.1" fill="#333" fill-opacity="0.9"/>
<circle cx="625.8" cy="103.3" r="1.1" fill="#333" fill-opacity="0.9"/>
<circle cx="632.0" cy="103.3" r="1.1" fill="#333" fill-opacity="0.9"/>
<circle cx="624.3" cy="105.9" r="1.1" fill="#333" fill-opacity="0.9"/>
<circle cx="636.6" cy="106.4" r="1.1" fill="#333" fill-opacity="0.9"/>
<circle cx="640.6" cy="105.4" r="1.1" fill="#333" fill-opacity="0.9"/>
<circle cx="636.1" cy="108.5" r="1.1" fill="#333" fill-opacity="0.9"/>
<circle cx="625.5" cy="110.7" r="1.1" fill="#333" fill-opacity="0.9"/>
<circle cx="625.1" cy="116.7" r="1.1" fill="#333" fill-opacity="0.9"/>
<circle cx="681.8" cy="52.0" r="1.1" fill="#333" fill-opacity="0.9"/>
<circle cx="685.9" cy="57.9" r="1.1" fill="#333" fill-opacity="0.9"/>
<circle cx="687.4" cy="56.1" r="1.1" fill="#333" fill-opacity="0.9"/>
<circle cx="690.0" cy="58.9" r="1.1" fill="#333" fill-opacity="0.9"/>
<circle cx="682.0" cy="61.0" r="1.1" fill="#333" fill-opacity="0.9"/>
<circle cx="663.4" cy="63.4" r="1.1" fill="#333" fill-opacity="0.9"/>
<circle cx="668.2" cy="63.4" r="1.1" fill="#333" fill-opacity="0.9"/>
<circle cx="671.3" cy="67.2" r="1.1" fill="#333" fill-opacity="0.9"/>
<circle cx="677.1" cy="66.6" r="1.1" fill="#333" fill-opacity="0.9"/>
<circle cx="662.4" cy="66.1" r="1.1" fill="#333" fill-opacity="0.9"/>
<circle cx="666.3" cy="66.1" r="1.1" fill="#333" fill-opacity="0.9"/>
<circle cx="689.2" cy="67.2" r="1.1" fill="#333" fill-opacity="0.9"/>
<circle cx="692.1" cy="67.9" r="1.1" fill="#333" fill-opacity="0.9"/>
<circle cx="692.1" cy="70.6" r="1.1" fill="#333" fill-opacity="0.9"/>
<circle cx="686.9" cy="72.3" r="1.1" fill="#333" fill-opacity="0.9"/>
<circle cx="684.0" cy="75.1" r="1.1" fill="#333" fill-opacity="0.9"/>
<circle cx="668.9" cy="78.5" r="1.1" fill="#333" fill-opacity="0.9"/>
<circle cx="671.3" cy="81.9" r="1.1" fill="#333" fill-opacity="0.9"/>
<circle cx="681.3" cy="81.6" r="1.1" fill="#333" fill-opacity="0.9"/>
<circle cx="670.4" cy="84.7" r="1.1" fill="#333" fill-opacity="0.9"/>
<circle cx="660.3" cy="88.1" r="1.1" fill="#333" fill-opacity="0.9"/>
<circle cx="673.0" cy="88.8" r="1.1" fill="#333" fill-opacity="0.9"/>
<circle cx="660.3" cy="92.6" r="1.1" fill="#333" fill-opacity="0.9"/>
<circle cx="663.0" cy="93.5" r="1.1" fill="#333" fill-opacity="0.9"/>
<circle cx="671.3" cy="92.6" r="1.1" fill="#333" fill-opacity="0.9"/>
<circle cx="679.9" cy="92.6" r="1.1" fill="#333" fill-opacity="0.9"/>
<circle cx="665.5" cy="100.2" r="1.1" fill="#333" fill-opacity="0.9"/>
<line x1="39.5" y1="21.1" x2="39.5" y2="288.1" stroke="#000" stroke-width="1.2"/>
<line x1="38.9" y1="288.1" x2="700.5" y2="288.1" stroke="#000" stroke-width="1.2"/>
<line x1="36.5" y1="253.4" x2="39.5" y2="253.4" stroke="#000" stroke-width="1.1"/>
<text x="33.9" y="258.3" text-anchor="end" font-size="11.5" fill="#000" stroke="#000" stroke-width="0.12">0.5</text>
<line x1="36.5" y1="204.4" x2="39.5" y2="204.4" stroke="#000" stroke-width="1.1"/>
<text x="33.9" y="209.3" text-anchor="end" font-size="11.5" fill="#000" stroke="#000" stroke-width="0.12">0.6</text>
<line x1="36.5" y1="155.4" x2="39.5" y2="155.4" stroke="#000" stroke-width="1.1"/>
<text x="33.9" y="160.3" text-anchor="end" font-size="11.5" fill="#000" stroke="#000" stroke-width="0.12">0.7</text>
<line x1="36.5" y1="106.4" x2="39.5" y2="106.4" stroke="#000" stroke-width="1.1"/>
<text x="33.9" y="111.3" text-anchor="end" font-size="11.5" fill="#000" stroke="#000" stroke-width="0.12">0.8</text>
<line x1="36.5" y1="57.4" x2="39.5" y2="57.4" stroke="#000" stroke-width="1.1"/>
<text x="33.9" y="62.3" text-anchor="end" font-size="11.5" fill="#000" stroke="#000" stroke-width="0.12">0.9</text>
<line x1="64.0" y1="288.1" x2="64.0" y2="291.6" stroke="#000" stroke-width="1.1"/>
<text x="64.0" y="301.9" text-anchor="middle" font-size="11.5" fill="#000" stroke="#000" stroke-width="0.12">C</text>
<line x1="104.8" y1="288.1" x2="104.8" y2="291.6" stroke="#000" stroke-width="1.1"/>
<text x="104.8" y="301.9" text-anchor="middle" font-size="11.5" fill="#000" stroke="#000" stroke-width="0.12">L</text>
<line x1="145.6" y1="288.1" x2="145.6" y2="291.6" stroke="#000" stroke-width="1.1"/>
<text x="145.6" y="301.9" text-anchor="middle" font-size="11.5" fill="#000" stroke="#000" stroke-width="0.12">R</text>
<line x1="186.4" y1="288.1" x2="186.4" y2="291.6" stroke="#000" stroke-width="1.1"/>
<text x="186.4" y="301.9" text-anchor="middle" font-size="11.5" fill="#000" stroke="#000" stroke-width="0.12">B</text>
<line x1="227.2" y1="288.1" x2="227.2" y2="291.6" stroke="#000" stroke-width="1.1"/>
<text x="227.2" y="301.9" text-anchor="middle" font-size="11.5" fill="#000" stroke="#000" stroke-width="0.12">W</text>
<line x1="268.0" y1="288.1" x2="268.0" y2="291.6" stroke="#000" stroke-width="1.1"/>
<text x="268.0" y="301.9" text-anchor="middle" font-size="11.5" fill="#000" stroke="#000" stroke-width="0.12">CL</text>
<line x1="308.8" y1="288.1" x2="308.8" y2="291.6" stroke="#000" stroke-width="1.1"/>
<text x="308.8" y="301.9" text-anchor="middle" font-size="11.5" fill="#000" stroke="#000" stroke-width="0.12">CR</text>
<line x1="349.6" y1="288.1" x2="349.6" y2="291.6" stroke="#000" stroke-width="1.1"/>
<text x="349.6" y="301.9" text-anchor="middle" font-size="11.5" fill="#000" stroke="#000" stroke-width="0.12">LR</text>
<line x1="390.4" y1="288.1" x2="390.4" y2="291.6" stroke="#000" stroke-width="1.1"/>
<text x="390.4" y="301.9" text-anchor="middle" font-size="11.5" fill="#000" stroke="#000" stroke-width="0.12">CB</text>
<line x1="431.2" y1="288.1" x2="431.2" y2="291.6" stroke="#000" stroke-width="1.1"/>
<text x="431.2" y="301.9" text-anchor="middle" font-size="11.5" fill="#000" stroke="#000" stroke-width="0.12">CW</text>
<line x1="472.0" y1="288.1" x2="472.0" y2="291.6" stroke="#000" stroke-width="1.1"/>
<text x="472.0" y="301.9" text-anchor="middle" font-size="11.5" fill="#000" stroke="#000" stroke-width="0.12">LB</text>
<line x1="512.8" y1="288.1" x2="512.8" y2="291.6" stroke="#000" stroke-width="1.1"/>
<text x="512.8" y="301.9" text-anchor="middle" font-size="11.5" fill="#000" stroke="#000" stroke-width="0.12">LW</text>
<line x1="553.6" y1="288.1" x2="553.6" y2="291.6" stroke="#000" stroke-width="1.1"/>
<text x="553.6" y="301.9" text-anchor="middle" font-size="11.5" fill="#000" stroke="#000" stroke-width="0.12">RB</text>
<line x1="594.4" y1="288.1" x2="594.4" y2="291.6" stroke="#000" stroke-width="1.1"/>
<text x="594.4" y="301.9" text-anchor="middle" font-size="11.5" fill="#000" stroke="#000" stroke-width="0.12">RW</text>
<line x1="635.2" y1="288.1" x2="635.2" y2="291.6" stroke="#000" stroke-width="1.1"/>
<text x="635.2" y="301.9" text-anchor="middle" font-size="11.5" fill="#000" stroke="#000" stroke-width="0.12">CLRB</text>
<line x1="676.0" y1="288.1" x2="676.0" y2="291.6" stroke="#000" stroke-width="1.1"/>
<text x="676.0" y="301.9" text-anchor="middle" font-size="11.5" fill="#000" stroke="#000" stroke-width="0.12">CLRW</text>
<text x="370.0" y="318.0" text-anchor="middle" font-size="13.7" fill="#000" stroke="#000" stroke-width="0.12">Data Modalities</text>
<text transform="translate(11.9,154.6) rotate(-90)" text-anchor="middle" font-size="13.4" fill="#000">AUC</text>
<path d="M104.8,40.2 V33.0 H145.6 V40.2" fill="none" stroke="#8c8c8c" stroke-width="1.1"/>
<text x="125.2" y="30.4" text-anchor="middle" font-size="11.2" fill="#222" stroke="#222" stroke-width="0.12">ns</text>
<path d="M186.4,40.2 V33.0 H227.2 V40.2" fill="none" stroke="#8c8c8c" stroke-width="1.1"/>
<text x="206.8" y="30.4" text-anchor="middle" font-size="11.2" fill="#222" stroke="#222" stroke-width="0.12">ns</text>
<path d="M268.0,40.2 V33.0 H308.8 V40.2" fill="none" stroke="#8c8c8c" stroke-width="1.1"/>
<text x="288.4" y="30.4" text-anchor="middle" font-size="10.5" fill="#222" stroke="#222" stroke-width="0.15">***</text>
<path d="M390.4,40.2 V33.0 H431.2 V40.2" fill="none" stroke="#8c8c8c" stroke-width="1.1"/>
<text x="410.8" y="30.4" text-anchor="middle" font-size="11.2" fill="#222" stroke="#222" stroke-width="0.12">ns</text>
<path d="M472.0,40.2 V33.0 H512.8 V40.2" fill="none" stroke="#8c8c8c" stroke-width="1.1"/>
<text x="492.4" y="30.4" text-anchor="middle" font-size="11.2" fill="#222" stroke="#222" stroke-width="0.12">ns</text>
<path d="M553.6,40.2 V33.0 H594.4 V40.2" fill="none" stroke="#8c8c8c" stroke-width="1.1"/>
<text x="574.0" y="30.4" text-anchor="middle" font-size="10.5" fill="#222" stroke="#222" stroke-width="0.15">***</text>
<path d="M635.2,40.2 V33.0 H676.0 V40.2" fill="none" stroke="#8c8c8c" stroke-width="1.1"/>
<text x="655.6" y="30.4" text-anchor="middle" font-size="10.5" fill="#222" stroke="#222" stroke-width="0.15">***</text>
<line x1="64.0" y1="454.3" x2="64.0" y2="545.5" stroke="#111" stroke-width="1.2"/>
<rect x="49.7" y="480.5" width="28.6" height="29.8" fill="#9655A5" stroke="#111" stroke-width="1.1"/>
<line x1="49.7" y1="494.8" x2="78.3" y2="494.8" stroke="#000" stroke-width="2.1"/>
<line x1="104.8" y1="389.2" x2="104.8" y2="461.1" stroke="#111" stroke-width="1.2"/>
<rect x="90.5" y="417.5" width="28.6" height="21.1" fill="#9168AE" stroke="#111" stroke-width="1.1"/>
<line x1="90.5" y1="425.9" x2="119.1" y2="425.9" stroke="#000" stroke-width="2.1"/>
<line x1="145.6" y1="410.9" x2="145.6" y2="474.3" stroke="#111" stroke-width="1.2"/>
<rect x="131.3" y="424.8" width="28.6" height="19.8" fill="#9682C4" stroke="#111" stroke-width="1.1"/>
<line x1="131.3" y1="435.0" x2="159.9" y2="435.0" stroke="#000" stroke-width="2.1"/>
<line x1="186.4" y1="508.9" x2="186.4" y2="578.6" stroke="#111" stroke-width="1.2"/>
<rect x="172.1" y="534.3" width="28.6" height="28.8" fill="#8686BC" stroke="#111" stroke-width="1.1"/>
<line x1="172.1" y1="551.2" x2="200.7" y2="551.2" stroke="#000" stroke-width="2.1"/>
<line x1="227.2" y1="501.7" x2="227.2" y2="587.2" stroke="#111" stroke-width="1.2"/>
<rect x="212.9" y="530.6" width="28.6" height="28.6" fill="#7A8CBC" stroke="#111" stroke-width="1.1"/>
<line x1="212.9" y1="547.3" x2="241.5" y2="547.3" stroke="#000" stroke-width="2.1"/>
<line x1="268.0" y1="376.2" x2="268.0" y2="447.1" stroke="#111" stroke-width="1.2"/>
<rect x="253.7" y="399.0" width="28.6" height="31.0" fill="#7696B8" stroke="#111" stroke-width="1.1"/>
<line x1="253.7" y1="417.6" x2="282.3" y2="417.6" stroke="#000" stroke-width="2.1"/>
<line x1="308.8" y1="411.8" x2="308.8" y2="474.7" stroke="#111" stroke-width="1.2"/>
<rect x="294.5" y="431.7" width="28.6" height="21.5" fill="#72A6BA" stroke="#111" stroke-width="1.1"/>
<line x1="294.5" y1="446.6" x2="323.1" y2="446.6" stroke="#000" stroke-width="2.1"/>
<line x1="349.6" y1="390.1" x2="349.6" y2="453.6" stroke="#111" stroke-width="1.2"/>
<rect x="335.3" y="406.0" width="28.6" height="23.4" fill="#76B8B2" stroke="#111" stroke-width="1.1"/>
<line x1="335.3" y1="417.5" x2="363.9" y2="417.5" stroke="#000" stroke-width="2.1"/>
<line x1="390.4" y1="452.7" x2="390.4" y2="579.5" stroke="#111" stroke-width="1.2"/>
<rect x="376.1" y="496.5" width="28.6" height="48.7" fill="#78C0B0" stroke="#111" stroke-width="1.1"/>
<line x1="376.1" y1="529.5" x2="404.7" y2="529.5" stroke="#000" stroke-width="2.1"/>
<line x1="431.2" y1="474.2" x2="431.2" y2="551.6" stroke="#111" stroke-width="1.2"/>
<rect x="416.9" y="504.1" width="28.6" height="24.1" fill="#7CCAAC" stroke="#111" stroke-width="1.1"/>
<line x1="416.9" y1="510.2" x2="445.5" y2="510.2" stroke="#000" stroke-width="2.1"/>
<line x1="472.0" y1="409.8" x2="472.0" y2="467.0" stroke="#111" stroke-width="1.2"/>
<rect x="457.7" y="424.4" width="28.6" height="21.7" fill="#82D0A8" stroke="#111" stroke-width="1.1"/>
<line x1="457.7" y1="436.0" x2="486.3" y2="436.0" stroke="#000" stroke-width="2.1"/>
<line x1="512.8" y1="403.3" x2="512.8" y2="480.8" stroke="#111" stroke-width="1.2"/>
<rect x="498.5" y="423.9" width="28.6" height="23.0" fill="#8CD6A4" stroke="#111" stroke-width="1.1"/>
<line x1="498.5" y1="439.6" x2="527.1" y2="439.6" stroke="#000" stroke-width="2.1"/>
<line x1="553.6" y1="402.1" x2="553.6" y2="460.2" stroke="#111" stroke-width="1.2"/>
<rect x="539.3" y="417.8" width="28.6" height="28.3" fill="#ADE28C" stroke="#111" stroke-width="1.1"/>
<line x1="539.3" y1="432.3" x2="567.9" y2="432.3" stroke="#000" stroke-width="2.1"/>
<line x1="594.4" y1="381.5" x2="594.4" y2="444.5" stroke="#111" stroke-width="1.2"/>
<rect x="580.1" y="405.7" width="28.6" height="20.6" fill="#C6EA80" stroke="#111" stroke-width="1.1"/>
<line x1="580.1" y1="421.0" x2="608.7" y2="421.0" stroke="#000" stroke-width="2.1"/>
<line x1="635.2" y1="389.9" x2="635.2" y2="452.6" stroke="#111" stroke-width="1.2"/>
<rect x="620.9" y="417.6" width="28.6" height="18.4" fill="#E2EE7E" stroke="#111" stroke-width="1.1"/>
<line x1="620.9" y1="425.3" x2="649.5" y2="425.3" stroke="#000" stroke-width="2.1"/>
<line x1="676.0" y1="361.1" x2="676.0" y2="439.1" stroke="#111" stroke-width="1.2"/>
<rect x="661.7" y="391.4" width="28.6" height="26.6" fill="#F8E97C" stroke="#111" stroke-width="1.1"/>
<line x1="661.7" y1="403.8" x2="690.3" y2="403.8" stroke="#000" stroke-width="2.1"/>
<circle cx="77.3" cy="454.1" r="1.1" fill="#333" fill-opacity="0.9"/>
<circle cx="54.5" cy="460.6" r="1.1" fill="#333" fill-opacity="0.9"/>
<circle cx="63.0" cy="460.6" r="1.1" fill="#333" fill-opacity="0.9"/>
<circle cx="53.1" cy="467.5" r="1.1" fill="#333" fill-opacity="0.9"/>
<circle cx="66.5" cy="466.9" r="1.1" fill="#333" fill-opacity="0.9"/>
<circle cx="49.7" cy="474.5" r="1.1" fill="#333" fill-opacity="0.9"/>
<circle cx="59.6" cy="474.5" r="1.1" fill="#333" fill-opacity="0.9"/>
<circle cx="48.2" cy="480.2" r="1.1" fill="#333" fill-opacity="0.9"/>
<circle cx="61.1" cy="481.6" r="1.1" fill="#333" fill-opacity="0.9"/>
<circle cx="51.6" cy="488.4" r="1.1" fill="#333" fill-opacity="0.9"/>
<circle cx="58.9" cy="488.8" r="1.1" fill="#333" fill-opacity="0.9"/>
<circle cx="75.4" cy="488.4" r="1.1" fill="#333" fill-opacity="0.9"/>
<circle cx="67.8" cy="494.1" r="1.1" fill="#333" fill-opacity="0.9"/>
<circle cx="52.0" cy="501.8" r="1.1" fill="#333" fill-opacity="0.9"/>
<circle cx="53.9" cy="502.5" r="1.1" fill="#333" fill-opacity="0.9"/>
<circle cx="67.8" cy="501.2" r="1.1" fill="#333" fill-opacity="0.9"/>
<circle cx="78.7" cy="504.4" r="1.1" fill="#333" fill-opacity="0.9"/>
<circle cx="52.6" cy="510.1" r="1.1" fill="#333" fill-opacity="0.9"/>
<circle cx="59.2" cy="510.7" r="1.1" fill="#333" fill-opacity="0.9"/>
<circle cx="62.7" cy="510.7" r="1.1" fill="#333" fill-opacity="0.9"/>
<circle cx="73.5" cy="515.9" r="1.1" fill="#333" fill-opacity="0.9"/>
<circle cx="71.0" cy="523.1" r="1.1" fill="#333" fill-opacity="0.9"/>
<circle cx="47.8" cy="531.7" r="1.1" fill="#333" fill-opacity="0.9"/>
<circle cx="48.2" cy="538.0" r="1.1" fill="#333" fill-opacity="0.9"/>
<circle cx="53.1" cy="546.0" r="1.1" fill="#333" fill-opacity="0.9"/>
<circle cx="61.5" cy="560.2" r="1.1" fill="#333" fill-opacity="0.9"/>
<circle cx="88.6" cy="388.9" r="1.1" fill="#333" fill-opacity="0.9"/>
<circle cx="91.4" cy="403.6" r="1.1" fill="#333" fill-opacity="0.9"/>
<circle cx="92.1" cy="402.6" r="1.1" fill="#333" fill-opacity="0.9"/>
<circle cx="115.0" cy="402.9" r="1.1" fill="#333" fill-opacity="0.9"/>
<circle cx="95.0" cy="410.0" r="1.1" fill="#333" fill-opacity="0.9"/>
<circle cx="98.6" cy="410.0" r="1.1" fill="#333" fill-opacity="0.9"/>
<circle cx="112.4" cy="410.7" r="1.1" fill="#333" fill-opacity="0.9"/>
<circle cx="104.3" cy="417.9" r="1.1" fill="#333" fill-opacity="0.9"/>
<circle cx="114.3" cy="417.9" r="1.1" fill="#333" fill-opacity="0.9"/>
<circle cx="90.7" cy="425.4" r="1.1" fill="#333" fill-opacity="0.9"/>
<circle cx="107.1" cy="424.3" r="1.1" fill="#333" fill-opacity="0.9"/>
<circle cx="107.6" cy="425.4" r="1.1" fill="#333" fill-opacity="0.9"/>
<circle cx="96.4" cy="432.6" r="1.1" fill="#333" fill-opacity="0.9"/>
<circle cx="109.3" cy="431.1" r="1.1" fill="#333" fill-opacity="0.9"/>
<circle cx="114.3" cy="433.1" r="1.1" fill="#333" fill-opacity="0.9"/>
<circle cx="93.6" cy="438.3" r="1.1" fill="#333" fill-opacity="0.9"/>
<circle cx="98.6" cy="439.7" r="1.1" fill="#333" fill-opacity="0.9"/>
<circle cx="113.3" cy="439.7" r="1.1" fill="#333" fill-opacity="0.9"/>
<circle cx="118.6" cy="438.6" r="1.1" fill="#333" fill-opacity="0.9"/>
<circle cx="113.9" cy="447.4" r="1.1" fill="#333" fill-opacity="0.9"/>
<circle cx="118.1" cy="446.0" r="1.1" fill="#333" fill-opacity="0.9"/>
<circle cx="110.0" cy="454.3" r="1.1" fill="#333" fill-opacity="0.9"/>
<circle cx="111.0" cy="459.7" r="1.1" fill="#333" fill-opacity="0.9"/>
<circle cx="103.6" cy="460.7" r="1.1" fill="#333" fill-opacity="0.9"/>
<circle cx="153.1" cy="410.3" r="1.1" fill="#333" fill-opacity="0.9"/>
<circle cx="131.4" cy="417.4" r="1.1" fill="#333" fill-opacity="0.9"/>
<circle cx="140.6" cy="417.4" r="1.1" fill="#333" fill-opacity="0.9"/>
<circle cx="150.6" cy="417.9" r="1.1" fill="#333" fill-opacity="0.9"/>
<circle cx="159.1" cy="416.9" r="1.1" fill="#333" fill-opacity="0.9"/>
<circle cx="129.6" cy="425.4" r="1.1" fill="#333" fill-opacity="0.9"/>
<circle cx="134.9" cy="424.6" r="1.1" fill="#333" fill-opacity="0.9"/>
<circle cx="142.4" cy="425.4" r="1.1" fill="#333" fill-opacity="0.9"/>
<circle cx="149.1" cy="425.0" r="1.1" fill="#333" fill-opacity="0.9"/>
<circle cx="156.3" cy="424.6" r="1.1" fill="#333" fill-opacity="0.9"/>
<circle cx="153.4" cy="431.7" r="1.1" fill="#333" fill-opacity="0.9"/>
<circle cx="132.0" cy="438.3" r="1.1" fill="#333" fill-opacity="0.9"/>
<circle cx="137.7" cy="438.3" r="1.1" fill="#333" fill-opacity="0.9"/>
<circle cx="142.0" cy="437.9" r="1.1" fill="#333" fill-opacity="0.9"/>
<circle cx="145.3" cy="439.3" r="1.1" fill="#333" fill-opacity="0.9"/>
<circle cx="153.9" cy="439.3" r="1.1" fill="#333" fill-opacity="0.9"/>
<circle cx="158.1" cy="440.3" r="1.1" fill="#333" fill-opacity="0.9"/>
<circle cx="142.9" cy="445.0" r="1.1" fill="#333" fill-opacity="0.9"/>
<circle cx="156.7" cy="446.0" r="1.1" fill="#333" fill-opacity="0.9"/>
<circle cx="156.0" cy="446.9" r="1.1" fill="#333" fill-opacity="0.9"/>
<circle cx="140.0" cy="452.6" r="1.1" fill="#333" fill-opacity="0.9"/>
<circle cx="148.9" cy="453.1" r="1.1" fill="#333" fill-opacity="0.9"/>
<circle cx="131.7" cy="466.0" r="1.1" fill="#333" fill-opacity="0.9"/>
<circle cx="155.3" cy="475.4" r="1.1" fill="#333" fill-opacity="0.9"/>
<circle cx="157.4" cy="474.3" r="1.1" fill="#333" fill-opacity="0.9"/>
<circle cx="173.9" cy="509.3" r="1.1" fill="#333" fill-opacity="0.9"/>
<circle cx="180.6" cy="510.0" r="1.1" fill="#333" fill-opacity="0.9"/>
<circle cx="182.0" cy="510.0" r="1.1" fill="#333" fill-opacity="0.9"/>
<circle cx="192.0" cy="508.3" r="1.1" fill="#333" fill-opacity="0.9"/>
<circle cx="187.4" cy="529.7" r="1.1" fill="#333" fill-opacity="0.9"/>
<circle cx="198.1" cy="530.7" r="1.1" fill="#333" fill-opacity="0.9"/>
<circle cx="200.3" cy="530.7" r="1.1" fill="#333" fill-opacity="0.9"/>
<circle cx="172.0" cy="538.3" r="1.1" fill="#333" fill-opacity="0.9"/>
<circle cx="180.0" cy="538.3" r="1.1" fill="#333" fill-opacity="0.9"/>
<circle cx="197.7" cy="537.9" r="1.1" fill="#333" fill-opacity="0.9"/>
<circle cx="174.9" cy="545.0" r="1.1" fill="#333" fill-opacity="0.9"/>
<circle cx="180.3" cy="552.9" r="1.1" fill="#333" fill-opacity="0.9"/>
<circle cx="178.6" cy="557.9" r="1.1" fill="#333" fill-opacity="0.9"/>
<circle cx="178.1" cy="559.7" r="1.1" fill="#333" fill-opacity="0.9"/>
<circle cx="192.9" cy="559.7" r="1.1" fill="#333" fill-opacity="0.9"/>
<circle cx="195.7" cy="558.3" r="1.1" fill="#333" fill-opacity="0.9"/>
<circle cx="200.0" cy="558.6" r="1.1" fill="#333" fill-opacity="0.9"/>
<circle cx="170.3" cy="565.0" r="1.1" fill="#333" fill-opacity="0.9"/>
<circle cx="196.3" cy="565.0" r="1.1" fill="#333" fill-opacity="0.9"/>
<circle cx="191.7" cy="568.3" r="1.1" fill="#333" fill-opacity="0.9"/>
<circle cx="174.9" cy="573.1" r="1.1" fill="#333" fill-opacity="0.9"/>
<circle cx="181.0" cy="572.9" r="1.1" fill="#333" fill-opacity="0.9"/>
<circle cx="181.0" cy="574.3" r="1.1" fill="#333" fill-opacity="0.9"/>
<circle cx="194.3" cy="573.1" r="1.1" fill="#333" fill-opacity="0.9"/>
<circle cx="175.3" cy="579.3" r="1.1" fill="#333" fill-opacity="0.9"/>
<circle cx="233.2" cy="501.3" r="1.1" fill="#333" fill-opacity="0.9"/>
<circle cx="241.6" cy="502.1" r="1.1" fill="#333" fill-opacity="0.9"/>
<circle cx="211.4" cy="523.6" r="1.1" fill="#333" fill-opacity="0.9"/>
<circle cx="217.3" cy="523.6" r="1.1" fill="#333" fill-opacity="0.9"/>
<circle cx="223.2" cy="523.6" r="1.1" fill="#333" fill-opacity="0.9"/>
<circle cx="211.4" cy="529.6" r="1.1" fill="#333" fill-opacity="0.9"/>
<circle cx="230.0" cy="530.7" r="1.1" fill="#333" fill-opacity="0.9"/>
<circle cx="229.2" cy="537.1" r="1.1" fill="#333" fill-opacity="0.9"/>
<circle cx="238.7" cy="537.5" r="1.1" fill="#333" fill-opacity="0.9"/>
<circle cx="240.3" cy="537.9" r="1.1" fill="#333" fill-opacity="0.9"/>
<circle cx="218.9" cy="544.2" r="1.1" fill="#333" fill-opacity="0.9"/>
<circle cx="226.0" cy="543.4" r="1.1" fill="#333" fill-opacity="0.9"/>
<circle cx="211.8" cy="551.3" r="1.1" fill="#333" fill-opacity="0.9"/>
<circle cx="213.3" cy="552.1" r="1.1" fill="#333" fill-opacity="0.9"/>
<circle cx="231.1" cy="551.3" r="1.1" fill="#333" fill-opacity="0.9"/>
<circle cx="233.2" cy="551.3" r="1.1" fill="#333" fill-opacity="0.9"/>
<circle cx="231.6" cy="558.5" r="1.1" fill="#333" fill-opacity="0.9"/>
<circle cx="238.0" cy="558.5" r="1.1" fill="#333" fill-opacity="0.9"/>
<circle cx="229.2" cy="566.1" r="1.1" fill="#333" fill-opacity="0.9"/>
<circle cx="235.6" cy="566.1" r="1.1" fill="#333" fill-opacity="0.9"/>
<circle cx="211.4" cy="572.5" r="1.1" fill="#333" fill-opacity="0.9"/>
<circle cx="239.1" cy="572.5" r="1.1" fill="#333" fill-opacity="0.9"/>
<circle cx="213.7" cy="581.5" r="1.1" fill="#333" fill-opacity="0.9"/>
<circle cx="230.8" cy="587.1" r="1.1" fill="#333" fill-opacity="0.9"/>
<circle cx="238.0" cy="586.7" r="1.1" fill="#333" fill-opacity="0.9"/>
<circle cx="271.1" cy="375.7" r="1.1" fill="#333" fill-opacity="0.9"/>
<circle cx="267.7" cy="382.1" r="1.1" fill="#333" fill-opacity="0.9"/>
<circle cx="273.0" cy="384.3" r="1.1" fill="#333" fill-opacity="0.9"/>
<circle cx="262.3" cy="390.0" r="1.1" fill="#333" fill-opacity="0.9"/>
<circle cx="263.0" cy="392.1" r="1.1" fill="#333" fill-opacity="0.9"/>
<circle cx="265.4" cy="390.0" r="1.1" fill="#333" fill-opacity="0.9"/>
<circle cx="268.0" cy="390.0" r="1.1" fill="#333" fill-opacity="0.9"/>
<circle cx="282.6" cy="397.1" r="1.1" fill="#333" fill-opacity="0.9"/>
<circle cx="283.7" cy="404.0" r="1.1" fill="#333" fill-opacity="0.9"/>
<circle cx="266.6" cy="404.0" r="1.1" fill="#333" fill-opacity="0.9"/>
<circle cx="270.1" cy="404.3" r="1.1" fill="#333" fill-opacity="0.9"/>
<circle cx="262.3" cy="410.7" r="1.1" fill="#333" fill-opacity="0.9"/>
<circle cx="257.7" cy="424.3" r="1.1" fill="#333" fill-opacity="0.9"/>
<circle cx="260.1" cy="424.6" r="1.1" fill="#333" fill-opacity="0.9"/>
<circle cx="264.0" cy="424.3" r="1.1" fill="#333" fill-opacity="0.9"/>
<circle cx="268.3" cy="425.4" r="1.1" fill="#333" fill-opacity="0.9"/>
<circle cx="273.0" cy="424.6" r="1.1" fill="#333" fill-opacity="0.9"/>
<circle cx="276.6" cy="424.3" r="1.1" fill="#333" fill-opacity="0.9"/>
<circle cx="254.9" cy="431.7" r="1.1" fill="#333" fill-opacity="0.9"/>
<circle cx="264.4" cy="431.7" r="1.1" fill="#333" fill-opacity="0.9"/>
<circle cx="277.3" cy="432.1" r="1.1" fill="#333" fill-opacity="0.9"/>
<circle cx="272.3" cy="440.0" r="1.1" fill="#333" fill-opacity="0.9"/>
<circle cx="276.9" cy="438.9" r="1.1" fill="#333" fill-opacity="0.9"/>
<circle cx="279.1" cy="438.3" r="1.1" fill="#333" fill-opacity="0.9"/>
<circle cx="266.6" cy="447.1" r="1.1" fill="#333" fill-opacity="0.9"/>
<circle cx="319.4" cy="411.1" r="1.1" fill="#333" fill-opacity="0.9"/>
<circle cx="299.1" cy="417.9" r="1.1" fill="#333" fill-opacity="0.9"/>
<circle cx="305.7" cy="417.9" r="1.1" fill="#333" fill-opacity="0.9"/>
<circle cx="300.1" cy="423.0" r="1.1" fill="#333" fill-opacity="0.9"/>
<circle cx="295.6" cy="425.5" r="1.1" fill="#333" fill-opacity="0.9"/>
<circle cx="314.3" cy="425.0" r="1.1" fill="#333" fill-opacity="0.9"/>
<circle cx="297.9" cy="431.6" r="1.1" fill="#333" fill-opacity="0.9"/>
<circle cx="301.0" cy="431.3" r="1.1" fill="#333" fill-opacity="0.9"/>
<circle cx="303.9" cy="432.6" r="1.1" fill="#333" fill-opacity="0.9"/>
<circle cx="306.1" cy="432.6" r="1.1" fill="#333" fill-opacity="0.9"/>
<circle cx="297.9" cy="439.4" r="1.1" fill="#333" fill-opacity="0.9"/>
<circle cx="297.2" cy="441.1" r="1.1" fill="#333" fill-opacity="0.9"/>
<circle cx="299.8" cy="446.1" r="1.1" fill="#333" fill-opacity="0.9"/>
<circle cx="312.4" cy="446.1" r="1.1" fill="#333" fill-opacity="0.9"/>
<circle cx="321.9" cy="446.1" r="1.1" fill="#333" fill-opacity="0.9"/>
<circle cx="297.2" cy="453.4" r="1.1" fill="#333" fill-opacity="0.9"/>
<circle cx="313.7" cy="452.8" r="1.1" fill="#333" fill-opacity="0.9"/>
<circle cx="319.1" cy="453.4" r="1.1" fill="#333" fill-opacity="0.9"/>
<circle cx="321.3" cy="452.5" r="1.1" fill="#333" fill-opacity="0.9"/>
<circle cx="323.8" cy="453.4" r="1.1" fill="#333" fill-opacity="0.9"/>
<circle cx="304.8" cy="473.4" r="1.1" fill="#333" fill-opacity="0.9"/>
<circle cx="308.6" cy="474.4" r="1.1" fill="#333" fill-opacity="0.9"/>
<circle cx="306.3" cy="488.2" r="1.1" fill="#333" fill-opacity="0.9"/>
<circle cx="312.0" cy="494.5" r="1.1" fill="#333" fill-opacity="0.9"/>
<circle cx="324.6" cy="496.4" r="1.1" fill="#333" fill-opacity="0.9"/>
<circle cx="348.3" cy="390.1" r="1.1" fill="#333" fill-opacity="0.9"/>
<circle cx="340.1" cy="396.6" r="1.1" fill="#333" fill-opacity="0.9"/>
<circle cx="354.1" cy="396.6" r="1.1" fill="#333" fill-opacity="0.9"/>
<circle cx="361.8" cy="396.6" r="1.1" fill="#333" fill-opacity="0.9"/>
<circle cx="334.4" cy="403.1" r="1.1" fill="#333" fill-opacity="0.9"/>
<circle cx="364.6" cy="403.6" r="1.1" fill="#333" fill-opacity="0.9"/>
<circle cx="340.8" cy="410.0" r="1.1" fill="#333" fill-opacity="0.9"/>
<circle cx="340.1" cy="411.4" r="1.1" fill="#333" fill-opacity="0.9"/>
<circle cx="351.8" cy="411.1" r="1.1" fill="#333" fill-opacity="0.9"/>
<circle cx="353.1" cy="410.6" r="1.1" fill="#333" fill-opacity="0.9"/>
<circle cx="358.3" cy="410.6" r="1.1" fill="#333" fill-opacity="0.9"/>
<circle cx="340.5" cy="418.8" r="1.1" fill="#333" fill-opacity="0.9"/>
<circle cx="342.2" cy="418.4" r="1.1" fill="#333" fill-opacity="0.9"/>
<circle cx="334.4" cy="425.1" r="1.1" fill="#333" fill-opacity="0.9"/>
<circle cx="336.6" cy="425.1" r="1.1" fill="#333" fill-opacity="0.9"/>
<circle cx="348.9" cy="425.1" r="1.1" fill="#333" fill-opacity="0.9"/>
<circle cx="359.7" cy="431.0" r="1.1" fill="#333" fill-opacity="0.9"/>
<circle cx="361.1" cy="432.8" r="1.1" fill="#333" fill-opacity="0.9"/>
<circle cx="333.8" cy="439.0" r="1.1" fill="#333" fill-opacity="0.9"/>
<circle cx="340.1" cy="439.0" r="1.1" fill="#333" fill-opacity="0.9"/>
<circle cx="358.3" cy="439.0" r="1.1" fill="#333" fill-opacity="0.9"/>
<circle cx="344.3" cy="447.2" r="1.1" fill="#333" fill-opacity="0.9"/>
<circle cx="344.0" cy="453.7" r="1.1" fill="#333" fill-opacity="0.9"/>
<circle cx="344.3" cy="479.9" r="1.1" fill="#333" fill-opacity="0.9"/>
<circle cx="344.6" cy="480.0" r="1.1" fill="#333" fill-opacity="0.9"/>
<circle cx="403.5" cy="452.7" r="1.1" fill="#333" fill-opacity="0.9"/>
<circle cx="381.3" cy="466.6" r="1.1" fill="#333" fill-opacity="0.9"/>
<circle cx="390.4" cy="474.9" r="1.1" fill="#333" fill-opacity="0.9"/>
<circle cx="375.9" cy="487.7" r="1.1" fill="#333" fill-opacity="0.9"/>
<circle cx="394.3" cy="488.0" r="1.1" fill="#333" fill-opacity="0.9"/>
<circle cx="384.0" cy="494.9" r="1.1" fill="#333" fill-opacity="0.9"/>
<circle cx="379.3" cy="502.9" r="1.1" fill="#333" fill-opacity="0.9"/>
<circle cx="380.9" cy="509.7" r="1.1" fill="#333" fill-opacity="0.9"/>
<circle cx="384.0" cy="508.9" r="1.1" fill="#333" fill-opacity="0.9"/>
<circle cx="391.1" cy="509.7" r="1.1" fill="#333" fill-opacity="0.9"/>
<circle cx="395.5" cy="508.9" r="1.1" fill="#333" fill-opacity="0.9"/>
<circle cx="394.7" cy="523.1" r="1.1" fill="#333" fill-opacity="0.9"/>
<circle cx="387.8" cy="531.6" r="1.1" fill="#333" fill-opacity="0.9"/>
<circle cx="397.9" cy="531.6" r="1.1" fill="#333" fill-opacity="0.9"/>
<circle cx="379.7" cy="537.0" r="1.1" fill="#333" fill-opacity="0.9"/>
<circle cx="375.0" cy="538.7" r="1.1" fill="#333" fill-opacity="0.9"/>
<circle cx="400.6" cy="537.8" r="1.1" fill="#333" fill-opacity="0.9"/>
<circle cx="398.7" cy="545.3" r="1.1" fill="#333" fill-opacity="0.9"/>
<circle cx="384.5" cy="553.0" r="1.1" fill="#333" fill-opacity="0.9"/>
<circle cx="388.0" cy="552.0" r="1.1" fill="#333" fill-opacity="0.9"/>
<circle cx="401.1" cy="553.2" r="1.1" fill="#333" fill-opacity="0.9"/>
<circle cx="383.1" cy="558.3" r="1.1" fill="#333" fill-opacity="0.9"/>
<circle cx="394.0" cy="559.9" r="1.1" fill="#333" fill-opacity="0.9"/>
<circle cx="399.1" cy="559.2" r="1.1" fill="#333" fill-opacity="0.9"/>
<circle cx="389.6" cy="579.7" r="1.1" fill="#333" fill-opacity="0.9"/>
<circle cx="446.3" cy="474.2" r="1.1" fill="#333" fill-opacity="0.9"/>
<circle cx="441.0" cy="480.8" r="1.1" fill="#333" fill-opacity="0.9"/>
<circle cx="431.8" cy="488.7" r="1.1" fill="#333" fill-opacity="0.9"/>
<circle cx="437.7" cy="488.0" r="1.1" fill="#333" fill-opacity="0.9"/>
<circle cx="436.3" cy="494.7" r="1.1" fill="#333" fill-opacity="0.9"/>
<circle cx="416.0" cy="496.3" r="1.1" fill="#333" fill-opacity="0.9"/>
<circle cx="439.3" cy="502.0" r="1.1" fill="#333" fill-opacity="0.9"/>
<circle cx="443.0" cy="503.0" r="1.1" fill="#333" fill-opacity="0.9"/>
<circle cx="420.7" cy="509.2" r="1.1" fill="#333" fill-opacity="0.9"/>
<circle cx="435.2" cy="508.7" r="1.1" fill="#333" fill-opacity="0.9"/>
<circle cx="441.3" cy="508.7" r="1.1" fill="#333" fill-opacity="0.9"/>
<circle cx="442.7" cy="509.7" r="1.1" fill="#333" fill-opacity="0.9"/>
<circle cx="441.8" cy="515.0" r="1.1" fill="#333" fill-opacity="0.9"/>
<circle cx="444.0" cy="515.8" r="1.1" fill="#333" fill-opacity="0.9"/>
<circle cx="414.7" cy="522.5" r="1.1" fill="#333" fill-opacity="0.9"/>
<circle cx="438.0" cy="523.3" r="1.1" fill="#333" fill-opacity="0.9"/>
<circle cx="441.0" cy="522.5" r="1.1" fill="#333" fill-opacity="0.9"/>
<circle cx="445.2" cy="523.7" r="1.1" fill="#333" fill-opacity="0.9"/>
<circle cx="429.0" cy="529.7" r="1.1" fill="#333" fill-opacity="0.9"/>
<circle cx="437.3" cy="531.3" r="1.1" fill="#333" fill-opacity="0.9"/>
<circle cx="415.7" cy="537.5" r="1.1" fill="#333" fill-opacity="0.9"/>
<circle cx="419.7" cy="544.2" r="1.1" fill="#333" fill-opacity="0.9"/>
<circle cx="435.2" cy="546.7" r="1.1" fill="#333" fill-opacity="0.9"/>
<circle cx="429.0" cy="551.7" r="1.1" fill="#333" fill-opacity="0.9"/>
<circle cx="421.0" cy="565.0" r="1.1" fill="#333" fill-opacity="0.9"/>
<circle cx="439.0" cy="565.8" r="1.1" fill="#333" fill-opacity="0.9"/>
<circle cx="457.0" cy="409.7" r="1.1" fill="#333" fill-opacity="0.9"/>
<circle cx="468.9" cy="410.7" r="1.1" fill="#333" fill-opacity="0.9"/>
<circle cx="482.3" cy="411.1" r="1.1" fill="#333" fill-opacity="0.9"/>
<circle cx="457.7" cy="417.4" r="1.1" fill="#333" fill-opacity="0.9"/>
<circle cx="458.9" cy="418.6" r="1.1" fill="#333" fill-opacity="0.9"/>
<circle cx="482.0" cy="416.9" r="1.1" fill="#333" fill-opacity="0.9"/>
<circle cx="478.9" cy="424.0" r="1.1" fill="#333" fill-opacity="0.9"/>
<circle cx="482.7" cy="425.0" r="1.1" fill="#333" fill-opacity="0.9"/>
<circle cx="456.3" cy="432.6" r="1.1" fill="#333" fill-opacity="0.9"/>
<circle cx="463.7" cy="434.0" r="1.1" fill="#333" fill-opacity="0.9"/>
<circle cx="466.0" cy="432.9" r="1.1" fill="#333" fill-opacity="0.9"/>
<circle cx="468.9" cy="431.4" r="1.1" fill="#333" fill-opacity="0.9"/>
<circle cx="473.1" cy="432.1" r="1.1" fill="#333" fill-opacity="0.9"/>
<circle cx="459.1" cy="438.6" r="1.1" fill="#333" fill-opacity="0.9"/>
<circle cx="470.3" cy="439.3" r="1.1" fill="#333" fill-opacity="0.9"/>
<circle cx="474.6" cy="438.9" r="1.1" fill="#333" fill-opacity="0.9"/>
<circle cx="481.3" cy="439.3" r="1.1" fill="#333" fill-opacity="0.9"/>
<circle cx="460.9" cy="446.0" r="1.1" fill="#333" fill-opacity="0.9"/>
<circle cx="475.6" cy="446.0" r="1.1" fill="#333" fill-opacity="0.9"/>
<circle cx="460.3" cy="454.0" r="1.1" fill="#333" fill-opacity="0.9"/>
<circle cx="461.7" cy="453.1" r="1.1" fill="#333" fill-opacity="0.9"/>
<circle cx="477.0" cy="452.9" r="1.1" fill="#333" fill-opacity="0.9"/>
<circle cx="484.9" cy="452.9" r="1.1" fill="#333" fill-opacity="0.9"/>
<circle cx="462.7" cy="467.4" r="1.1" fill="#333" fill-opacity="0.9"/>
<circle cx="472.7" cy="480.3" r="1.1" fill="#333" fill-opacity="0.9"/>
<circle cx="504.1" cy="404.2" r="1.1" fill="#333" fill-opacity="0.9"/>
<circle cx="518.1" cy="402.9" r="1.1" fill="#333" fill-opacity="0.9"/>
<circle cx="500.9" cy="410.9" r="1.1" fill="#333" fill-opacity="0.9"/>
<circle cx="501.7" cy="409.6" r="1.1" fill="#333" fill-opacity="0.9"/>
<circle cx="500.6" cy="418.8" r="1.1" fill="#333" fill-opacity="0.9"/>
<circle cx="511.7" cy="418.5" r="1.1" fill="#333" fill-opacity="0.9"/>
<circle cx="520.3" cy="418.0" r="1.1" fill="#333" fill-opacity="0.9"/>
<circle cx="498.6" cy="423.9" r="1.1" fill="#333" fill-opacity="0.9"/>
<circle cx="509.7" cy="424.8" r="1.1" fill="#333" fill-opacity="0.9"/>
<circle cx="507.0" cy="431.8" r="1.1" fill="#333" fill-opacity="0.9"/>
<circle cx="499.3" cy="438.2" r="1.1" fill="#333" fill-opacity="0.9"/>
<circle cx="506.0" cy="437.9" r="1.1" fill="#333" fill-opacity="0.9"/>
<circle cx="526.0" cy="440.2" r="1.1" fill="#333" fill-opacity="0.9"/>
<circle cx="500.9" cy="446.1" r="1.1" fill="#333" fill-opacity="0.9"/>
<circle cx="507.0" cy="445.8" r="1.1" fill="#333" fill-opacity="0.9"/>
<circle cx="525.5" cy="446.1" r="1.1" fill="#333" fill-opacity="0.9"/>
<circle cx="497.4" cy="453.4" r="1.1" fill="#333" fill-opacity="0.9"/>
<circle cx="509.2" cy="452.5" r="1.1" fill="#333" fill-opacity="0.9"/>
<circle cx="519.2" cy="453.7" r="1.1" fill="#333" fill-opacity="0.9"/>
<circle cx="497.8" cy="459.8" r="1.1" fill="#333" fill-opacity="0.9"/>
<circle cx="527.1" cy="460.1" r="1.1" fill="#333" fill-opacity="0.9"/>
<circle cx="498.1" cy="474.0" r="1.1" fill="#333" fill-opacity="0.9"/>
<circle cx="524.7" cy="481.0" r="1.1" fill="#333" fill-opacity="0.9"/>
<circle cx="543.5" cy="402.6" r="1.1" fill="#333" fill-opacity="0.9"/>
<circle cx="547.7" cy="405.1" r="1.1" fill="#333" fill-opacity="0.9"/>
<circle cx="553.0" cy="402.6" r="1.1" fill="#333" fill-opacity="0.9"/>
<circle cx="556.2" cy="410.4" r="1.1" fill="#333" fill-opacity="0.9"/>
<circle cx="544.1" cy="418.0" r="1.1" fill="#333" fill-opacity="0.9"/>
<circle cx="556.8" cy="417.5" r="1.1" fill="#333" fill-opacity="0.9"/>
<circle cx="560.0" cy="416.8" r="1.1" fill="#333" fill-opacity="0.9"/>
<circle cx="538.8" cy="425.1" r="1.1" fill="#333" fill-opacity="0.9"/>
<circle cx="560.8" cy="425.6" r="1.1" fill="#333" fill-opacity="0.9"/>
<circle cx="565.0" cy="425.6" r="1.1" fill="#333" fill-opacity="0.9"/>
<circle cx="537.2" cy="439.1" r="1.1" fill="#333" fill-opacity="0.9"/>
<circle cx="567.2" cy="437.8" r="1.1" fill="#333" fill-opacity="0.9"/>
<circle cx="566.7" cy="444.1" r="1.1" fill="#333" fill-opacity="0.9"/>
<circle cx="546.7" cy="446.9" r="1.1" fill="#333" fill-opacity="0.9"/>
<circle cx="562.1" cy="446.6" r="1.1" fill="#333" fill-opacity="0.9"/>
<circle cx="541.8" cy="453.0" r="1.1" fill="#333" fill-opacity="0.9"/>
<circle cx="547.3" cy="452.6" r="1.1" fill="#333" fill-opacity="0.9"/>
<circle cx="565.4" cy="453.0" r="1.1" fill="#333" fill-opacity="0.9"/>
<circle cx="569.7" cy="453.0" r="1.1" fill="#333" fill-opacity="0.9"/>
<circle cx="553.2" cy="460.2" r="1.1" fill="#333" fill-opacity="0.9"/>
<circle cx="557.8" cy="460.6" r="1.1" fill="#333" fill-opacity="0.9"/>
<circle cx="589.9" cy="382.6" r="1.1" fill="#333" fill-opacity="0.9"/>
<circle cx="594.6" cy="382.3" r="1.1" fill="#333" fill-opacity="0.9"/>
<circle cx="579.8" cy="388.9" r="1.1" fill="#333" fill-opacity="0.9"/>
<circle cx="589.2" cy="389.6" r="1.1" fill="#333" fill-opacity="0.9"/>
<circle cx="597.2" cy="389.2" r="1.1" fill="#333" fill-opacity="0.9"/>
<circle cx="578.2" cy="396.3" r="1.1" fill="#333" fill-opacity="0.9"/>
<circle cx="584.5" cy="403.1" r="1.1" fill="#333" fill-opacity="0.9"/>
<circle cx="605.6" cy="403.1" r="1.1" fill="#333" fill-opacity="0.9"/>
<circle cx="602.8" cy="411.7" r="1.1" fill="#333" fill-opacity="0.9"/>
<circle cx="605.1" cy="411.5" r="1.1" fill="#333" fill-opacity="0.9"/>
<circle cx="602.8" cy="417.8" r="1.1" fill="#333" fill-opacity="0.9"/>
<circle cx="605.4" cy="417.0" r="1.1" fill="#333" fill-opacity="0.9"/>
<circle cx="609.8" cy="418.0" r="1.1" fill="#333" fill-opacity="0.9"/>
<circle cx="582.0" cy="416.8" r="1.1" fill="#333" fill-opacity="0.9"/>
<circle cx="578.8" cy="424.6" r="1.1" fill="#333" fill-opacity="0.9"/>
<circle cx="582.8" cy="425.0" r="1.1" fill="#333" fill-opacity="0.9"/>
<circle cx="592.7" cy="425.6" r="1.1" fill="#333" fill-opacity="0.9"/>
<circle cx="597.8" cy="424.6" r="1.1" fill="#333" fill-opacity="0.9"/>
<circle cx="605.1" cy="424.4" r="1.1" fill="#333" fill-opacity="0.9"/>
<circle cx="581.6" cy="440.6" r="1.1" fill="#333" fill-opacity="0.9"/>
<circle cx="592.1" cy="438.9" r="1.1" fill="#333" fill-opacity="0.9"/>
<circle cx="599.3" cy="438.5" r="1.1" fill="#333" fill-opacity="0.9"/>
<circle cx="605.1" cy="440.6" r="1.1" fill="#333" fill-opacity="0.9"/>
<circle cx="609.8" cy="439.6" r="1.1" fill="#333" fill-opacity="0.9"/>
<circle cx="600.3" cy="444.9" r="1.1" fill="#333" fill-opacity="0.9"/>
<circle cx="635.0" cy="389.7" r="1.1" fill="#333" fill-opacity="0.9"/>
<circle cx="625.7" cy="404.0" r="1.1" fill="#333" fill-opacity="0.9"/>
<circle cx="630.0" cy="402.9" r="1.1" fill="#333" fill-opacity="0.9"/>
<circle cx="636.1" cy="402.6" r="1.1" fill="#333" fill-opacity="0.9"/>
<circle cx="638.6" cy="410.7" r="1.1" fill="#333" fill-opacity="0.9"/>
<circle cx="639.6" cy="411.4" r="1.1" fill="#333" fill-opacity="0.9"/>
<circle cx="644.3" cy="410.7" r="1.1" fill="#333" fill-opacity="0.9"/>
<circle cx="628.1" cy="416.9" r="1.1" fill="#333" fill-opacity="0.9"/>
<circle cx="624.7" cy="418.6" r="1.1" fill="#333" fill-opacity="0.9"/>
<circle cx="636.1" cy="418.6" r="1.1" fill="#333" fill-opacity="0.9"/>
<circle cx="629.3" cy="424.6" r="1.1" fill="#333" fill-opacity="0.9"/>
<circle cx="637.9" cy="424.6" r="1.1" fill="#333" fill-opacity="0.9"/>
<circle cx="646.4" cy="424.6" r="1.1" fill="#333" fill-opacity="0.9"/>
<circle cx="632.4" cy="432.6" r="1.1" fill="#333" fill-opacity="0.9"/>
<circle cx="635.0" cy="432.1" r="1.1" fill="#333" fill-opacity="0.9"/>
<circle cx="637.6" cy="432.1" r="1.1" fill="#333" fill-opacity="0.9"/>
<circle cx="640.7" cy="432.1" r="1.1" fill="#333" fill-opacity="0.9"/>
<circle cx="626.4" cy="437.9" r="1.1" fill="#333" fill-opacity="0.9"/>
<circle cx="635.7" cy="438.3" r="1.1" fill="#333" fill-opacity="0.9"/>
<circle cx="619.0" cy="446.4" r="1.1" fill="#333" fill-opacity="0.9"/>
<circle cx="630.0" cy="446.9" r="1.1" fill="#333" fill-opacity="0.9"/>
<circle cx="633.9" cy="446.0" r="1.1" fill="#333" fill-opacity="0.9"/>
<circle cx="645.3" cy="446.0" r="1.1" fill="#333" fill-opacity="0.9"/>
<circle cx="623.3" cy="452.6" r="1.1" fill="#333" fill-opacity="0.9"/>
<circle cx="631.9" cy="453.1" r="1.1" fill="#333" fill-opacity="0.9"/>
<circle cx="675.4" cy="361.7" r="1.1" fill="#333" fill-opacity="0.9"/>
<circle cx="676.6" cy="375.6" r="1.1" fill="#333" fill-opacity="0.9"/>
<circle cx="661.7" cy="375.6" r="1.1" fill="#333" fill-opacity="0.9"/>
<circle cx="665.5" cy="384.0" r="1.1" fill="#333" fill-opacity="0.9"/>
<circle cx="676.6" cy="384.0" r="1.1" fill="#333" fill-opacity="0.9"/>
<circle cx="678.5" cy="389.3" r="1.1" fill="#333" fill-opacity="0.9"/>
<circle cx="680.4" cy="389.7" r="1.1" fill="#333" fill-opacity="0.9"/>
<circle cx="689.9" cy="388.9" r="1.1" fill="#333" fill-opacity="0.9"/>
<circle cx="664.0" cy="396.5" r="1.1" fill="#333" fill-opacity="0.9"/>
<circle cx="665.1" cy="395.4" r="1.1" fill="#333" fill-opacity="0.9"/>
<circle cx="670.3" cy="397.3" r="1.1" fill="#333" fill-opacity="0.9"/>
<circle cx="674.7" cy="396.0" r="1.1" fill="#333" fill-opacity="0.9"/>
<circle cx="684.2" cy="396.5" r="1.1" fill="#333" fill-opacity="0.9"/>
<circle cx="671.2" cy="404.1" r="1.1" fill="#333" fill-opacity="0.9"/>
<circle cx="667.8" cy="410.6" r="1.1" fill="#333" fill-opacity="0.9"/>
<circle cx="675.0" cy="411.8" r="1.1" fill="#333" fill-opacity="0.9"/>
<circle cx="679.2" cy="410.6" r="1.1" fill="#333" fill-opacity="0.9"/>
<circle cx="682.7" cy="410.6" r="1.1" fill="#333" fill-opacity="0.9"/>
<circle cx="689.9" cy="416.9" r="1.1" fill="#333" fill-opacity="0.9"/>
<circle cx="678.5" cy="419.4" r="1.1" fill="#333" fill-opacity="0.9"/>
<circle cx="677.9" cy="425.1" r="1.1" fill="#333" fill-opacity="0.9"/>
<circle cx="679.8" cy="424.5" r="1.1" fill="#333" fill-opacity="0.9"/>
<circle cx="688.0" cy="432.1" r="1.1" fill="#333" fill-opacity="0.9"/>
<circle cx="664.6" cy="439.8" r="1.1" fill="#333" fill-opacity="0.9"/>
<circle cx="666.5" cy="439.8" r="1.1" fill="#333" fill-opacity="0.9"/>
<circle cx="678.5" cy="460.7" r="1.1" fill="#333" fill-opacity="0.9"/>
<line x1="39.5" y1="332.5" x2="39.5" y2="599.1" stroke="#000" stroke-width="1.2"/>
<line x1="38.9" y1="599.1" x2="700.5" y2="599.1" stroke="#000" stroke-width="1.2"/>
<line x1="36.5" y1="576.3" x2="39.5" y2="576.3" stroke="#000" stroke-width="1.1"/>
<text x="33.9" y="581.2" text-anchor="end" font-size="11.5" fill="#000" stroke="#000" stroke-width="0.12">0.5</text>
<line x1="36.5" y1="513.7" x2="39.5" y2="513.7" stroke="#000" stroke-width="1.1"/>
<text x="33.9" y="518.6" text-anchor="end" font-size="11.5" fill="#000" stroke="#000" stroke-width="0.12">0.6</text>
<line x1="36.5" y1="451.0" x2="39.5" y2="451.0" stroke="#000" stroke-width="1.1"/>
<text x="33.9" y="455.9" text-anchor="end" font-size="11.5" fill="#000" stroke="#000" stroke-width="0.12">0.7</text>
<line x1="36.5" y1="388.4" x2="39.5" y2="388.4" stroke="#000" stroke-width="1.1"/>
<text x="33.9" y="393.3" text-anchor="end" font-size="11.5" fill="#000" stroke="#000" stroke-width="0.12">0.8</text>
<line x1="64.0" y1="599.1" x2="64.0" y2="602.6" stroke="#000" stroke-width="1.1"/>
<text x="64.0" y="612.9" text-anchor="middle" font-size="11.5" fill="#000" stroke="#000" stroke-width="0.12">C</text>
<line x1="104.8" y1="599.1" x2="104.8" y2="602.6" stroke="#000" stroke-width="1.1"/>
<text x="104.8" y="612.9" text-anchor="middle" font-size="11.5" fill="#000" stroke="#000" stroke-width="0.12">L</text>
<line x1="145.6" y1="599.1" x2="145.6" y2="602.6" stroke="#000" stroke-width="1.1"/>
<text x="145.6" y="612.9" text-anchor="middle" font-size="11.5" fill="#000" stroke="#000" stroke-width="0.12">R</text>
<line x1="186.4" y1="599.1" x2="186.4" y2="602.6" stroke="#000" stroke-width="1.1"/>
<text x="186.4" y="612.9" text-anchor="middle" font-size="11.5" fill="#000" stroke="#000" stroke-width="0.12">B</text>
<line x1="227.2" y1="599.1" x2="227.2" y2="602.6" stroke="#000" stroke-width="1.1"/>
<text x="227.2" y="612.9" text-anchor="middle" font-size="11.5" fill="#000" stroke="#000" stroke-width="0.12">W</text>
<line x1="268.0" y1="599.1" x2="268.0" y2="602.6" stroke="#000" stroke-width="1.1"/>
<text x="268.0" y="612.9" text-anchor="middle" font-size="11.5" fill="#000" stroke="#000" stroke-width="0.12">CL</text>
<line x1="308.8" y1="599.1" x2="308.8" y2="602.6" stroke="#000" stroke-width="1.1"/>
<text x="308.8" y="612.9" text-anchor="middle" font-size="11.5" fill="#000" stroke="#000" stroke-width="0.12">CR</text>
<line x1="349.6" y1="599.1" x2="349.6" y2="602.6" stroke="#000" stroke-width="1.1"/>
<text x="349.6" y="612.9" text-anchor="middle" font-size="11.5" fill="#000" stroke="#000" stroke-width="0.12">LR</text>
<line x1="390.4" y1="599.1" x2="390.4" y2="602.6" stroke="#000" stroke-width="1.1"/>
<text x="390.4" y="612.9" text-anchor="middle" font-size="11.5" fill="#000" stroke="#000" stroke-width="0.12">CB</text>
<line x1="431.2" y1="599.1" x2="431.2" y2="602.6" stroke="#000" stroke-width="1.1"/>
<text x="431.2" y="612.9" text-anchor="middle" font-size="11.5" fill="#000" stroke="#000" stroke-width="0.12">CW</text>
<line x1="472.0" y1="599.1" x2="472.0" y2="602.6" stroke="#000" stroke-width="1.1"/>
<text x="472.0" y="612.9" text-anchor="middle" font-size="11.5" fill="#000" stroke="#000" stroke-width="0.12">LB</text>
<line x1="512.8" y1="599.1" x2="512.8" y2="602.6" stroke="#000" stroke-width="1.1"/>
<text x="512.8" y="612.9" text-anchor="middle" font-size="11.5" fill="#000" stroke="#000" stroke-width="0.12">LW</text>
<line x1="553.6" y1="599.1" x2="553.6" y2="602.6" stroke="#000" stroke-width="1.1"/>
<text x="553.6" y="612.9" text-anchor="middle" font-size="11.5" fill="#000" stroke="#000" stroke-width="0.12">RB</text>
<line x1="594.4" y1="599.1" x2="594.4" y2="602.6" stroke="#000" stroke-width="1.1"/>
<text x="594.4" y="612.9" text-anchor="middle" font-size="11.5" fill="#000" stroke="#000" stroke-width="0.12">RW</text>
<line x1="635.2" y1="599.1" x2="635.2" y2="602.6" stroke="#000" stroke-width="1.1"/>
<text x="635.2" y="612.9" text-anchor="middle" font-size="11.5" fill="#000" stroke="#000" stroke-width="0.12">CLRB</text>
<line x1="676.0" y1="599.1" x2="676.0" y2="602.6" stroke="#000" stroke-width="1.1"/>
<text x="676.0" y="612.9" text-anchor="middle" font-size="11.5" fill="#000" stroke="#000" stroke-width="0.12">CLRW</text>
<text x="370.0" y="629.0" text-anchor="middle" font-size="13.7" fill="#000" stroke="#000" stroke-width="0.12">Data Modalities</text>
<text transform="translate(11.9,465.8) rotate(-90)" text-anchor="middle" font-size="13.4" fill="#000">Accuracy</text>
<path d="M104.8,351.6 V344.4 H145.6 V351.6" fill="none" stroke="#8c8c8c" stroke-width="1.1"/>
<text x="125.2" y="341.8" text-anchor="middle" font-size="11.2" fill="#222" stroke="#222" stroke-width="0.12">ns</text>
<path d="M186.4,351.6 V344.4 H227.2 V351.6" fill="none" stroke="#8c8c8c" stroke-width="1.1"/>
<text x="206.8" y="341.8" text-anchor="middle" font-size="11.2" fill="#222" stroke="#222" stroke-width="0.12">ns</text>
<path d="M268.0,351.6 V344.4 H308.8 V351.6" fill="none" stroke="#8c8c8c" stroke-width="1.1"/>
<text x="288.4" y="341.8" text-anchor="middle" font-size="10.5" fill="#222" stroke="#222" stroke-width="0.15">****</text>
<path d="M390.4,351.6 V344.4 H431.2 V351.6" fill="none" stroke="#8c8c8c" stroke-width="1.1"/>
<text x="410.8" y="341.8" text-anchor="middle" font-size="11.2" fill="#222" stroke="#222" stroke-width="0.12">ns</text>
<path d="M472.0,351.6 V344.4 H512.8 V351.6" fill="none" stroke="#8c8c8c" stroke-width="1.1"/>
<text x="492.4" y="341.8" text-anchor="middle" font-size="11.2" fill="#222" stroke="#222" stroke-width="0.12">ns</text>
<path d="M553.6,351.6 V344.4 H594.4 V351.6" fill="none" stroke="#8c8c8c" stroke-width="1.1"/>
<text x="574.0" y="341.8" text-anchor="middle" font-size="11.2" fill="#222" stroke="#222" stroke-width="0.12">ns</text>
<path d="M635.2,351.6 V344.4 H676.0 V351.6" fill="none" stroke="#8c8c8c" stroke-width="1.1"/>
<text x="655.6" y="341.8" text-anchor="middle" font-size="10.5" fill="#222" stroke="#222" stroke-width="0.15">**</text>
</svg></body></html>
